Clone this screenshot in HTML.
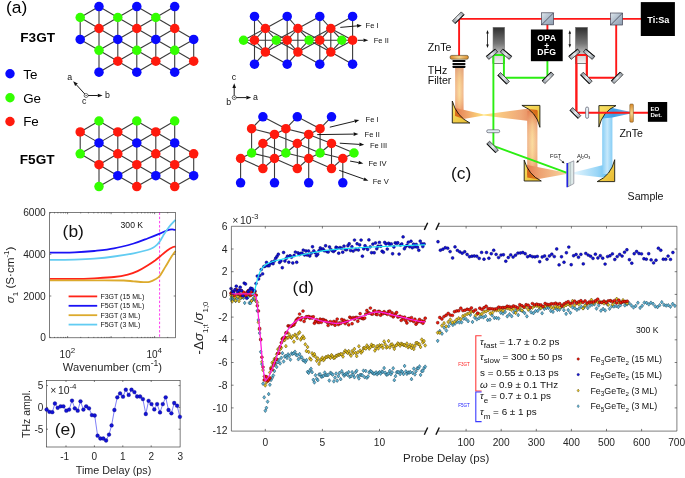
<!DOCTYPE html>
<html lang="en"><head><meta charset="utf-8"><title>Figure</title>
<style>html,body{margin:0;padding:0;background:#fff}body{width:685px;height:478px;overflow:hidden;font-family:"Liberation Sans",Arial,sans-serif}svg{display:block}</style>
</head><body>
<svg width="685" height="478" viewBox="0 0 685 478" font-family="'Liberation Sans', Arial, sans-serif">
<rect width="685" height="478" fill="#fff"/>
<g id="pa"><g stroke="#3a3a3a" stroke-width="1.1">
<line x1="80.2" y1="17.5" x2="80.2" y2="39.4"/>
<line x1="80.2" y1="17.5" x2="99.0" y2="6.6"/>
<line x1="80.2" y1="17.5" x2="99.0" y2="28.5"/>
<line x1="80.2" y1="39.4" x2="99.0" y2="28.5"/>
<line x1="80.2" y1="39.4" x2="99.0" y2="50.3"/>
<line x1="99.0" y1="6.6" x2="99.0" y2="28.5"/>
<line x1="99.0" y1="6.6" x2="117.8" y2="17.5"/>
<line x1="99.0" y1="28.5" x2="99.0" y2="50.3"/>
<line x1="99.0" y1="28.5" x2="117.8" y2="17.5"/>
<line x1="99.0" y1="28.5" x2="117.8" y2="39.4"/>
<line x1="99.0" y1="50.3" x2="99.0" y2="72.2"/>
<line x1="99.0" y1="50.3" x2="117.8" y2="39.4"/>
<line x1="99.0" y1="50.3" x2="117.8" y2="61.2"/>
<line x1="99.0" y1="72.2" x2="117.8" y2="61.2"/>
<line x1="117.8" y1="17.5" x2="117.8" y2="39.4"/>
<line x1="117.8" y1="17.5" x2="136.8" y2="6.6"/>
<line x1="117.8" y1="17.5" x2="136.8" y2="28.5"/>
<line x1="117.8" y1="39.4" x2="117.8" y2="61.2"/>
<line x1="117.8" y1="39.4" x2="136.8" y2="28.5"/>
<line x1="117.8" y1="39.4" x2="136.8" y2="50.3"/>
<line x1="117.8" y1="61.2" x2="136.8" y2="50.3"/>
<line x1="117.8" y1="61.2" x2="136.8" y2="72.2"/>
<line x1="136.8" y1="6.6" x2="136.8" y2="28.5"/>
<line x1="136.8" y1="6.6" x2="155.8" y2="17.5"/>
<line x1="136.8" y1="28.5" x2="136.8" y2="50.3"/>
<line x1="136.8" y1="28.5" x2="155.8" y2="17.5"/>
<line x1="136.8" y1="28.5" x2="155.8" y2="39.4"/>
<line x1="136.8" y1="50.3" x2="136.8" y2="72.2"/>
<line x1="136.8" y1="50.3" x2="155.8" y2="39.4"/>
<line x1="136.8" y1="50.3" x2="155.8" y2="61.2"/>
<line x1="136.8" y1="72.2" x2="155.8" y2="61.2"/>
<line x1="155.8" y1="17.5" x2="155.8" y2="39.4"/>
<line x1="155.8" y1="17.5" x2="174.7" y2="6.6"/>
<line x1="155.8" y1="17.5" x2="174.7" y2="28.5"/>
<line x1="155.8" y1="39.4" x2="155.8" y2="61.2"/>
<line x1="155.8" y1="39.4" x2="174.7" y2="28.5"/>
<line x1="155.8" y1="39.4" x2="174.7" y2="50.3"/>
<line x1="155.8" y1="61.2" x2="174.7" y2="50.3"/>
<line x1="155.8" y1="61.2" x2="174.7" y2="72.2"/>
<line x1="174.7" y1="6.6" x2="174.7" y2="28.5"/>
<line x1="174.7" y1="28.5" x2="174.7" y2="50.3"/>
<line x1="174.7" y1="28.5" x2="193.7" y2="39.4"/>
<line x1="174.7" y1="50.3" x2="174.7" y2="72.2"/>
<line x1="174.7" y1="50.3" x2="193.7" y2="39.4"/>
<line x1="174.7" y1="50.3" x2="193.7" y2="61.2"/>
<line x1="174.7" y1="72.2" x2="193.7" y2="61.2"/>
<line x1="193.7" y1="39.4" x2="193.7" y2="61.2"/>
</g>
<circle cx="80.2" cy="17.5" r="4.75" fill="#33ff00"/>
<circle cx="80.2" cy="39.4" r="4.75" fill="#0a0aff"/>
<circle cx="99.0" cy="6.6" r="4.75" fill="#0a0aff"/>
<circle cx="99.0" cy="28.5" r="4.75" fill="#ff1a0d"/>
<circle cx="99.0" cy="50.3" r="4.75" fill="#33ff00"/>
<circle cx="99.0" cy="72.2" r="4.75" fill="#0a0aff"/>
<circle cx="117.8" cy="17.5" r="4.75" fill="#33ff00"/>
<circle cx="117.8" cy="39.4" r="4.75" fill="#0a0aff"/>
<circle cx="117.8" cy="61.2" r="4.75" fill="#ff1a0d"/>
<circle cx="136.8" cy="6.6" r="4.75" fill="#0a0aff"/>
<circle cx="136.8" cy="28.5" r="4.75" fill="#ff1a0d"/>
<circle cx="136.8" cy="50.3" r="4.75" fill="#33ff00"/>
<circle cx="136.8" cy="72.2" r="4.75" fill="#0a0aff"/>
<circle cx="155.8" cy="17.5" r="4.75" fill="#33ff00"/>
<circle cx="155.8" cy="39.4" r="4.75" fill="#0a0aff"/>
<circle cx="155.8" cy="61.2" r="4.75" fill="#ff1a0d"/>
<circle cx="174.7" cy="6.6" r="4.75" fill="#0a0aff"/>
<circle cx="174.7" cy="28.5" r="4.75" fill="#ff1a0d"/>
<circle cx="174.7" cy="50.3" r="4.75" fill="#33ff00"/>
<circle cx="174.7" cy="72.2" r="4.75" fill="#0a0aff"/>
<circle cx="193.7" cy="39.4" r="4.75" fill="#0a0aff"/>
<circle cx="193.7" cy="61.2" r="4.75" fill="#ff1a0d"/>
<g stroke="#3a3a3a" stroke-width="1.1">
<line x1="80.2" y1="131.9" x2="80.2" y2="153.8"/>
<line x1="80.2" y1="131.9" x2="99.0" y2="121.0"/>
<line x1="80.2" y1="131.9" x2="99.0" y2="142.9"/>
<line x1="80.2" y1="153.8" x2="99.0" y2="142.9"/>
<line x1="80.2" y1="153.8" x2="99.0" y2="164.7"/>
<line x1="99.0" y1="121.0" x2="99.0" y2="142.9"/>
<line x1="99.0" y1="121.0" x2="117.8" y2="131.9"/>
<line x1="99.0" y1="142.9" x2="99.0" y2="164.7"/>
<line x1="99.0" y1="142.9" x2="117.8" y2="131.9"/>
<line x1="99.0" y1="142.9" x2="117.8" y2="153.8"/>
<line x1="99.0" y1="164.7" x2="99.0" y2="186.6"/>
<line x1="99.0" y1="164.7" x2="117.8" y2="153.8"/>
<line x1="99.0" y1="164.7" x2="117.8" y2="175.7"/>
<line x1="99.0" y1="186.6" x2="117.8" y2="175.7"/>
<line x1="117.8" y1="131.9" x2="117.8" y2="153.8"/>
<line x1="117.8" y1="131.9" x2="136.8" y2="121.0"/>
<line x1="117.8" y1="131.9" x2="136.8" y2="142.9"/>
<line x1="117.8" y1="153.8" x2="117.8" y2="175.7"/>
<line x1="117.8" y1="153.8" x2="136.8" y2="142.9"/>
<line x1="117.8" y1="153.8" x2="136.8" y2="164.7"/>
<line x1="117.8" y1="175.7" x2="136.8" y2="164.7"/>
<line x1="117.8" y1="175.7" x2="136.8" y2="186.6"/>
<line x1="136.8" y1="121.0" x2="136.8" y2="142.9"/>
<line x1="136.8" y1="121.0" x2="155.8" y2="131.9"/>
<line x1="136.8" y1="142.9" x2="136.8" y2="164.7"/>
<line x1="136.8" y1="142.9" x2="155.8" y2="131.9"/>
<line x1="136.8" y1="142.9" x2="155.8" y2="153.8"/>
<line x1="136.8" y1="164.7" x2="136.8" y2="186.6"/>
<line x1="136.8" y1="164.7" x2="155.8" y2="153.8"/>
<line x1="136.8" y1="164.7" x2="155.8" y2="175.7"/>
<line x1="136.8" y1="186.6" x2="155.8" y2="175.7"/>
<line x1="155.8" y1="131.9" x2="155.8" y2="153.8"/>
<line x1="155.8" y1="131.9" x2="174.7" y2="121.0"/>
<line x1="155.8" y1="131.9" x2="174.7" y2="142.9"/>
<line x1="155.8" y1="153.8" x2="155.8" y2="175.7"/>
<line x1="155.8" y1="153.8" x2="174.7" y2="142.9"/>
<line x1="155.8" y1="153.8" x2="174.7" y2="164.7"/>
<line x1="155.8" y1="175.7" x2="174.7" y2="164.7"/>
<line x1="155.8" y1="175.7" x2="174.7" y2="186.6"/>
<line x1="174.7" y1="121.0" x2="174.7" y2="142.9"/>
<line x1="174.7" y1="142.9" x2="174.7" y2="164.7"/>
<line x1="174.7" y1="142.9" x2="193.7" y2="153.8"/>
<line x1="174.7" y1="164.7" x2="174.7" y2="186.6"/>
<line x1="174.7" y1="164.7" x2="193.7" y2="153.8"/>
<line x1="174.7" y1="164.7" x2="193.7" y2="175.7"/>
<line x1="174.7" y1="186.6" x2="193.7" y2="175.7"/>
<line x1="193.7" y1="153.8" x2="193.7" y2="175.7"/>
</g>
<circle cx="80.2" cy="131.9" r="4.75" fill="#ff1a0d"/>
<circle cx="80.2" cy="153.8" r="4.75" fill="#33ff00"/>
<circle cx="99.0" cy="121.0" r="4.75" fill="#33ff00"/>
<circle cx="99.0" cy="142.9" r="4.75" fill="#0a0aff"/>
<circle cx="99.0" cy="164.7" r="4.75" fill="#ff1a0d"/>
<circle cx="99.0" cy="186.6" r="4.75" fill="#33ff00"/>
<circle cx="117.8" cy="131.9" r="4.75" fill="#ff1a0d"/>
<circle cx="117.8" cy="153.8" r="4.75" fill="#ff1a0d"/>
<circle cx="117.8" cy="175.7" r="4.75" fill="#0a0aff"/>
<circle cx="136.8" cy="121.0" r="4.75" fill="#33ff00"/>
<circle cx="136.8" cy="142.9" r="4.75" fill="#0a0aff"/>
<circle cx="136.8" cy="164.7" r="4.75" fill="#ff1a0d"/>
<circle cx="136.8" cy="186.6" r="4.75" fill="#ff1a0d"/>
<circle cx="155.8" cy="131.9" r="4.75" fill="#ff1a0d"/>
<circle cx="155.8" cy="153.8" r="4.75" fill="#ff1a0d"/>
<circle cx="155.8" cy="175.7" r="4.75" fill="#0a0aff"/>
<circle cx="174.7" cy="121.0" r="4.75" fill="#33ff00"/>
<circle cx="174.7" cy="142.9" r="4.75" fill="#0a0aff"/>
<circle cx="174.7" cy="164.7" r="4.75" fill="#ff1a0d"/>
<circle cx="174.7" cy="186.6" r="4.75" fill="#ff1a0d"/>
<circle cx="193.7" cy="153.8" r="4.75" fill="#ff1a0d"/>
<circle cx="193.7" cy="175.7" r="4.75" fill="#0a0aff"/>
<g stroke="#3a3a3a" stroke-width="1.1">
<line x1="254.5" y1="16.4" x2="254.5" y2="64.2"/>
<line x1="287.2" y1="16.4" x2="287.2" y2="64.2"/>
<line x1="319.8" y1="16.4" x2="319.8" y2="64.2"/>
<line x1="352.6" y1="16.4" x2="352.6" y2="64.2"/>
<line x1="243.5" y1="40.2" x2="352.6" y2="40.2"/>
<line x1="265.4" y1="28.5" x2="254.5" y2="16.4"/>
<line x1="265.4" y1="28.5" x2="287.2" y2="16.4"/>
<line x1="265.4" y1="28.5" x2="243.5" y2="40.2"/>
<line x1="265.4" y1="28.5" x2="254.5" y2="40.2"/>
<line x1="265.4" y1="28.5" x2="276.2" y2="40.2"/>
<line x1="265.4" y1="28.5" x2="287.2" y2="40.2"/>
<line x1="265.4" y1="52.1" x2="254.5" y2="64.2"/>
<line x1="265.4" y1="52.1" x2="287.2" y2="64.2"/>
<line x1="265.4" y1="52.1" x2="243.5" y2="40.2"/>
<line x1="265.4" y1="52.1" x2="254.5" y2="40.2"/>
<line x1="265.4" y1="52.1" x2="276.2" y2="40.2"/>
<line x1="265.4" y1="52.1" x2="287.2" y2="40.2"/>
<line x1="265.4" y1="28.5" x2="265.4" y2="52.1"/>
<line x1="297.9" y1="28.5" x2="287.2" y2="16.4"/>
<line x1="297.9" y1="28.5" x2="319.8" y2="16.4"/>
<line x1="297.9" y1="28.5" x2="276.2" y2="40.2"/>
<line x1="297.9" y1="28.5" x2="287.2" y2="40.2"/>
<line x1="297.9" y1="28.5" x2="309.0" y2="40.2"/>
<line x1="297.9" y1="28.5" x2="319.8" y2="40.2"/>
<line x1="297.9" y1="52.1" x2="287.2" y2="64.2"/>
<line x1="297.9" y1="52.1" x2="319.8" y2="64.2"/>
<line x1="297.9" y1="52.1" x2="276.2" y2="40.2"/>
<line x1="297.9" y1="52.1" x2="287.2" y2="40.2"/>
<line x1="297.9" y1="52.1" x2="309.0" y2="40.2"/>
<line x1="297.9" y1="52.1" x2="319.8" y2="40.2"/>
<line x1="297.9" y1="28.5" x2="297.9" y2="52.1"/>
<line x1="330.8" y1="28.5" x2="319.8" y2="16.4"/>
<line x1="330.8" y1="28.5" x2="352.6" y2="16.4"/>
<line x1="330.8" y1="28.5" x2="309.0" y2="40.2"/>
<line x1="330.8" y1="28.5" x2="319.8" y2="40.2"/>
<line x1="330.8" y1="28.5" x2="341.8" y2="40.2"/>
<line x1="330.8" y1="28.5" x2="352.6" y2="40.2"/>
<line x1="330.8" y1="52.1" x2="319.8" y2="64.2"/>
<line x1="330.8" y1="52.1" x2="352.6" y2="64.2"/>
<line x1="330.8" y1="52.1" x2="309.0" y2="40.2"/>
<line x1="330.8" y1="52.1" x2="319.8" y2="40.2"/>
<line x1="330.8" y1="52.1" x2="341.8" y2="40.2"/>
<line x1="330.8" y1="52.1" x2="352.6" y2="40.2"/>
<line x1="330.8" y1="28.5" x2="330.8" y2="52.1"/>
</g>
<circle cx="254.5" cy="16.4" r="4.75" fill="#0a0aff"/>
<circle cx="254.5" cy="64.2" r="4.75" fill="#0a0aff"/>
<circle cx="254.5" cy="40.2" r="4.75" fill="#ff1a0d"/>
<circle cx="287.2" cy="16.4" r="4.75" fill="#0a0aff"/>
<circle cx="287.2" cy="64.2" r="4.75" fill="#0a0aff"/>
<circle cx="287.2" cy="40.2" r="4.75" fill="#ff1a0d"/>
<circle cx="319.8" cy="16.4" r="4.75" fill="#0a0aff"/>
<circle cx="319.8" cy="64.2" r="4.75" fill="#0a0aff"/>
<circle cx="319.8" cy="40.2" r="4.75" fill="#ff1a0d"/>
<circle cx="352.6" cy="16.4" r="4.75" fill="#0a0aff"/>
<circle cx="352.6" cy="64.2" r="4.75" fill="#0a0aff"/>
<circle cx="352.6" cy="40.2" r="4.75" fill="#ff1a0d"/>
<circle cx="243.5" cy="40.2" r="4.7" fill="#33ff00"/>
<circle cx="276.2" cy="40.2" r="4.7" fill="#33ff00"/>
<circle cx="309.0" cy="40.2" r="4.7" fill="#33ff00"/>
<circle cx="341.8" cy="40.2" r="4.7" fill="#33ff00"/>
<circle cx="265.4" cy="28.5" r="4.75" fill="#ff1a0d"/>
<circle cx="265.4" cy="52.1" r="4.75" fill="#ff1a0d"/>
<circle cx="297.9" cy="28.5" r="4.75" fill="#ff1a0d"/>
<circle cx="297.9" cy="52.1" r="4.75" fill="#ff1a0d"/>
<circle cx="330.8" cy="28.5" r="4.75" fill="#ff1a0d"/>
<circle cx="330.8" cy="52.1" r="4.75" fill="#ff1a0d"/>
<g stroke="#3a3a3a" stroke-width="1.1">
<line x1="262.9" y1="116.8" x2="251.6" y2="128.7"/>
<line x1="262.9" y1="116.8" x2="285.9" y2="128.7"/>
<line x1="297.3" y1="116.8" x2="285.9" y2="128.7"/>
<line x1="297.3" y1="116.8" x2="320.1" y2="128.7"/>
<line x1="331.5" y1="116.8" x2="320.1" y2="128.7"/>
<line x1="251.6" y1="128.7" x2="274.5" y2="134.4"/>
<line x1="285.9" y1="128.7" x2="274.5" y2="134.4"/>
<line x1="285.9" y1="128.7" x2="308.7" y2="134.4"/>
<line x1="320.1" y1="128.7" x2="308.7" y2="134.4"/>
<line x1="274.5" y1="134.4" x2="262.9" y2="143.5"/>
<line x1="274.5" y1="134.4" x2="297.3" y2="143.5"/>
<line x1="308.7" y1="134.4" x2="297.3" y2="143.5"/>
<line x1="308.7" y1="134.4" x2="331.5" y2="143.5"/>
<line x1="262.9" y1="143.5" x2="251.6" y2="153.0"/>
<line x1="262.9" y1="143.5" x2="285.9" y2="153.0"/>
<line x1="297.3" y1="143.5" x2="285.9" y2="153.0"/>
<line x1="297.3" y1="143.5" x2="320.1" y2="153.0"/>
<line x1="331.5" y1="143.5" x2="320.1" y2="153.0"/>
<line x1="331.5" y1="143.5" x2="354.0" y2="153.0"/>
<line x1="251.6" y1="153.0" x2="240.6" y2="158.5"/>
<line x1="251.6" y1="153.0" x2="274.5" y2="158.5"/>
<line x1="285.9" y1="153.0" x2="274.5" y2="158.5"/>
<line x1="285.9" y1="153.0" x2="308.7" y2="158.5"/>
<line x1="320.1" y1="153.0" x2="308.7" y2="158.5"/>
<line x1="320.1" y1="153.0" x2="342.8" y2="158.5"/>
<line x1="354.0" y1="153.0" x2="342.8" y2="158.5"/>
<line x1="240.6" y1="158.5" x2="262.9" y2="168.6"/>
<line x1="274.5" y1="158.5" x2="262.9" y2="168.6"/>
<line x1="274.5" y1="158.5" x2="297.3" y2="168.6"/>
<line x1="308.7" y1="158.5" x2="297.3" y2="168.6"/>
<line x1="308.7" y1="158.5" x2="331.5" y2="168.6"/>
<line x1="342.8" y1="158.5" x2="331.5" y2="168.6"/>
<line x1="251.6" y1="128.7" x2="251.6" y2="153.0"/>
<line x1="285.9" y1="128.7" x2="285.9" y2="153.0"/>
<line x1="320.1" y1="128.7" x2="320.1" y2="153.0"/>
<line x1="274.5" y1="134.4" x2="274.5" y2="182.8"/>
<line x1="308.7" y1="134.4" x2="308.7" y2="182.8"/>
<line x1="240.6" y1="158.5" x2="240.6" y2="182.8"/>
<line x1="342.8" y1="158.5" x2="342.8" y2="182.8"/>
<line x1="262.9" y1="143.5" x2="262.9" y2="168.6"/>
<line x1="297.3" y1="143.5" x2="297.3" y2="168.6"/>
<line x1="331.5" y1="143.5" x2="331.5" y2="168.6"/>
</g>
<circle cx="262.9" cy="116.8" r="4.75" fill="#0a0aff"/>
<circle cx="297.3" cy="116.8" r="4.75" fill="#0a0aff"/>
<circle cx="331.5" cy="116.8" r="4.75" fill="#0a0aff"/>
<circle cx="251.6" cy="128.7" r="4.75" fill="#ff1a0d"/>
<circle cx="285.9" cy="128.7" r="4.75" fill="#ff1a0d"/>
<circle cx="320.1" cy="128.7" r="4.75" fill="#ff1a0d"/>
<circle cx="274.5" cy="134.4" r="4.75" fill="#ff1a0d"/>
<circle cx="308.7" cy="134.4" r="4.75" fill="#ff1a0d"/>
<circle cx="262.9" cy="143.5" r="4.75" fill="#ff1a0d"/>
<circle cx="297.3" cy="143.5" r="4.75" fill="#ff1a0d"/>
<circle cx="331.5" cy="143.5" r="4.75" fill="#ff1a0d"/>
<circle cx="251.6" cy="153.0" r="4.75" fill="#33ff00"/>
<circle cx="285.9" cy="153.0" r="4.75" fill="#33ff00"/>
<circle cx="320.1" cy="153.0" r="4.75" fill="#33ff00"/>
<circle cx="354.0" cy="153.0" r="4.75" fill="#33ff00"/>
<circle cx="240.6" cy="158.5" r="4.75" fill="#ff1a0d"/>
<circle cx="274.5" cy="158.5" r="4.75" fill="#ff1a0d"/>
<circle cx="308.7" cy="158.5" r="4.75" fill="#ff1a0d"/>
<circle cx="342.8" cy="158.5" r="4.75" fill="#ff1a0d"/>
<circle cx="262.9" cy="168.6" r="4.75" fill="#ff1a0d"/>
<circle cx="297.3" cy="168.6" r="4.75" fill="#ff1a0d"/>
<circle cx="331.5" cy="168.6" r="4.75" fill="#ff1a0d"/>
<circle cx="240.6" cy="182.8" r="4.75" fill="#0a0aff"/>
<circle cx="274.5" cy="182.8" r="4.75" fill="#0a0aff"/>
<circle cx="308.7" cy="182.8" r="4.75" fill="#0a0aff"/>
<circle cx="342.8" cy="182.8" r="4.75" fill="#0a0aff"/>
<line x1="340.3" y1="27.4" x2="357.0" y2="25.9" stroke="#111" stroke-width="0.95"/><polygon points="361.8,25.5 357.2,27.7 356.9,24.1" fill="#111"/>
<line x1="357.8" y1="40.3" x2="363.5" y2="40.3" stroke="#111" stroke-width="0.95"/><polygon points="368.3,40.3 363.5,42.1 363.5,38.5" fill="#111"/>
<line x1="329.8" y1="127.2" x2="354.6" y2="121.2" stroke="#111" stroke-width="0.95"/><polygon points="359.3,120.1 355.1,123.0 354.2,119.5" fill="#111"/>
<line x1="317.2" y1="134.6" x2="353.6" y2="134.1" stroke="#111" stroke-width="0.95"/><polygon points="358.4,134.0 353.6,135.9 353.6,132.3" fill="#111"/>
<line x1="339.8" y1="143.2" x2="359.4" y2="144.4" stroke="#111" stroke-width="0.95"/><polygon points="364.2,144.7 359.3,146.2 359.5,142.6" fill="#111"/>
<line x1="350.1" y1="161.1" x2="358.6" y2="162.6" stroke="#111" stroke-width="0.95"/><polygon points="363.3,163.4 358.3,164.3 358.9,160.8" fill="#111"/>
<line x1="339.2" y1="170.3" x2="363.9" y2="179.1" stroke="#111" stroke-width="0.95"/><polygon points="368.4,180.7 363.3,180.8 364.5,177.4" fill="#111"/>
<g font-size="7.6" fill="#111">
<text x="365.6" y="27.9">Fe I</text>
<text x="373.7" y="43.2">Fe II</text>
<text x="365.6" y="122.4">Fe I</text>
<text x="364.6" y="136.6">Fe II</text>
<text x="369.9" y="147.8">Fe III</text>
<text x="368.4" y="165.8">Fe IV</text>
<text x="372.7" y="184.0">Fe V</text>
</g>
<circle cx="86.1" cy="95.5" r="2.0" fill="#fff" stroke="#111" stroke-width="0.6"/><circle cx="86.1" cy="95.5" r="0.6" fill="#111"/>
<line x1="84.8" y1="94.0" x2="76.4" y2="84.8" stroke="#111" stroke-width="0.95"/><polygon points="73.2,81.2 77.8,83.5 75.1,86.0" fill="#111"/>
<line x1="88.1" y1="95.5" x2="97.8" y2="95.5" stroke="#111" stroke-width="0.95"/><polygon points="102.6,95.5 97.8,97.3 97.8,93.7" fill="#111"/>
<circle cx="234.2" cy="97.6" r="2.0" fill="#fff" stroke="#111" stroke-width="0.6"/><circle cx="234.2" cy="97.6" r="0.6" fill="#111"/>
<line x1="234.2" y1="95.6" x2="234.2" y2="88.0" stroke="#111" stroke-width="0.95"/><polygon points="234.2,83.2 236.0,88.0 232.4,88.0" fill="#111"/>
<line x1="236.2" y1="97.6" x2="246.4" y2="97.6" stroke="#111" stroke-width="0.95"/><polygon points="251.2,97.6 246.4,99.4 246.4,95.8" fill="#111"/>
<g font-size="8.8" fill="#111" text-anchor="middle">
<text x="69.6" y="80.4">a</text>
<text x="107.5" y="98.2">b</text>
<text x="84.2" y="104.0">c</text>
<text x="234.0" y="80.0">c</text>
<text x="255.4" y="100.2">a</text>
<text x="228.6" y="105.2">b</text>
</g>
<text x="6.0" y="13.3" font-size="17.4">(a)</text>
<text x="20.3" y="41.6" font-size="13.6" font-weight="bold">F3GT</text>
<text x="19.8" y="164.4" font-size="13.6" font-weight="bold">F5GT</text>
<circle cx="10.0" cy="73.8" r="4.7" fill="#0a0aff"/>
<text x="23.2" y="78.7" font-size="13.4">Te</text>
<circle cx="10.0" cy="97.7" r="4.7" fill="#33ff00"/>
<text x="23.2" y="102.6" font-size="13.4">Ge</text>
<circle cx="10.0" cy="121.5" r="4.7" fill="#ff1a0d"/>
<text x="23.2" y="126.4" font-size="13.4">Fe</text></g>
<g id="pc"><defs>
<linearGradient id="gmir" x1="0" y1="0" x2="1" y2="0"><stop offset="0" stop-color="#8c949c"/><stop offset="0.5" stop-color="#e8ecef"/><stop offset="1" stop-color="#9aa2aa"/></linearGradient>
<linearGradient id="gbs" x1="0" y1="0" x2="1" y2="1"><stop offset="0" stop-color="#dfe6ec"/><stop offset="0.5" stop-color="#aebccb"/><stop offset="1" stop-color="#8e9eb0"/></linearGradient>
<linearGradient id="gstage" x1="0" y1="0" x2="0" y2="1"><stop offset="0" stop-color="#2e2e2e"/><stop offset="0.45" stop-color="#777"/><stop offset="0.8" stop-color="#d8d8d8"/><stop offset="1" stop-color="#f4f4f4"/></linearGradient>
<linearGradient id="ggold" x1="0" y1="0" x2="1" y2="1"><stop offset="0" stop-color="#f9e468"/><stop offset="1" stop-color="#e8b930"/></linearGradient>
<linearGradient id="gznte" x1="0" y1="0" x2="1" y2="0"><stop offset="0" stop-color="#d98a2a"/><stop offset="0.5" stop-color="#f6d58e"/><stop offset="1" stop-color="#d98a2a"/></linearGradient>
<linearGradient id="gznte2" x1="0" y1="0" x2="0" y2="1"><stop offset="0" stop-color="#d98a2a"/><stop offset="0.5" stop-color="#f6d58e"/><stop offset="1" stop-color="#d98a2a"/></linearGradient>
<linearGradient id="gthzV" x1="0" y1="0" x2="1" y2="0"><stop offset="0" stop-color="#efb48c"/><stop offset="0.5" stop-color="#fbdca0"/><stop offset="1" stop-color="#efb48c"/></linearGradient>
<linearGradient id="gthzV1" x1="0" y1="0" x2="0" y2="1"><stop offset="0" stop-color="#d48a6a" stop-opacity="0.55"/><stop offset="0.5" stop-color="#ffd070" stop-opacity="0.0"/><stop offset="0.8" stop-color="#e0693a" stop-opacity="0.3"/><stop offset="1" stop-color="#e0693a" stop-opacity="0.65"/></linearGradient>
<linearGradient id="gthzH" x1="0" y1="0" x2="1" y2="0"><stop offset="0" stop-color="#e47c50"/><stop offset="0.15" stop-color="#f0a66c"/><stop offset="0.35" stop-color="#ffe47c"/><stop offset="0.48" stop-color="#fcd084"/><stop offset="0.8" stop-color="#efa878"/><stop offset="1" stop-color="#e47c50"/></linearGradient>
<linearGradient id="gthzV2" x1="0" y1="0" x2="0" y2="1"><stop offset="0" stop-color="#e0693a" stop-opacity="0.7"/><stop offset="0.22" stop-color="#e0693a" stop-opacity="0.2"/><stop offset="0.5" stop-color="#ffd070" stop-opacity="0.0"/><stop offset="0.8" stop-color="#e0693a" stop-opacity="0.2"/><stop offset="1" stop-color="#e0693a" stop-opacity="0.7"/></linearGradient>
<linearGradient id="gthzF" x1="0" y1="0" x2="1" y2="0"><stop offset="0" stop-color="#e47c50"/><stop offset="0.3" stop-color="#eda070"/><stop offset="1" stop-color="#f8d4a0"/></linearGradient>
<linearGradient id="gblueH" x1="0" y1="0" x2="1" y2="0"><stop offset="0" stop-color="#e2f4fd"/><stop offset="0.6" stop-color="#9ad6f7"/><stop offset="1" stop-color="#52b6ee"/></linearGradient>
<linearGradient id="gblueV" x1="0" y1="0" x2="1" y2="0"><stop offset="0" stop-color="#86cdf5"/><stop offset="0.5" stop-color="#c6e8fb"/><stop offset="1" stop-color="#86cdf5"/></linearGradient>
<linearGradient id="gblueT" x1="0" y1="0" x2="1" y2="0"><stop offset="0" stop-color="#55b4ee"/><stop offset="0.4" stop-color="#3f9fe6"/><stop offset="1" stop-color="#7ab8e4"/></linearGradient>
<linearGradient id="gsub" x1="0" y1="0" x2="1" y2="0"><stop offset="0" stop-color="#c5d8d8"/><stop offset="1" stop-color="#e8f0f0"/></linearGradient>
</defs>
<polygon points="574.2,172.2 602.2,165.2 612.4,167 612.4,178.6 602.2,177.6 574.2,174.2" fill="url(#gblueH)"/>
<rect x="602.2" y="110" width="10.2" height="64" fill="url(#gblueV)"/>
<polygon points="602.2,108.6 612.4,108.0 631,112.0 631,113.4 612.4,117.6 602.2,118.6" fill="url(#gblueT)"/>
<path d="M452.3,101 L452.3,123 L469.9,123 Q456.5,116.5 452.3,101 Z" fill="url(#ggold)" stroke="#1a1a10" stroke-width="0.9" stroke-linejoin="miter"/>
<path d="M521.9,105.4 L539.9,105.4 L539.9,127.3 Q536.5,111.5 521.9,105.4 Z" fill="url(#ggold)" stroke="#1a1a10" stroke-width="0.9" stroke-linejoin="miter"/>
<path d="M524.2,160.1 L524.2,181 L541.3,181 Q528.5,175 524.2,160.1 Z" fill="url(#ggold)" stroke="#1a1a10" stroke-width="0.9" stroke-linejoin="miter"/>
<path d="M616,105.6 L598.9,105.6 L598.9,127.1 Q602.5,111.5 616,105.6 Z" fill="url(#ggold)" stroke="#1a1a10" stroke-width="0.9" stroke-linejoin="miter"/>
<path d="M614.7,159.7 L614.7,181.6 L597.2,181.6 Q611,175.5 614.7,159.7 Z" fill="url(#ggold)" stroke="#1a1a10" stroke-width="0.9" stroke-linejoin="miter"/>
<g style="mix-blend-mode:multiply">
<rect x="455.2" y="68" width="8.3" height="48" fill="url(#gthzV)"/>
<rect x="455.2" y="68" width="8.3" height="48" fill="url(#gthzV1)"/>
<polygon points="455.2,108.0 463.5,109.8 483.8,114.4 527.2,108.8 537.4,110.0 537.4,122.0 483.8,115.6 463.5,119.0 455.2,116.0" fill="url(#gthzH)"/>
<rect x="527.2" y="111" width="10.2" height="64" fill="url(#gthzV)"/>
<rect x="527.2" y="111" width="10.2" height="64" fill="url(#gthzV2)"/>
<polygon points="527.2,165 537.4,167 566.4,172.7 566.4,174.1 537.4,179.2 527.2,177.4" fill="url(#gthzF)"/>
</g>
<g fill="none" stroke="#ff1717" stroke-width="1.9" stroke-linejoin="miter">
<polyline points="459.1,56 459.1,18.9 641,18.9"/>
<line x1="547.4" y1="24" x2="547.4" y2="30.5"/>
<polyline points="616.2,24 616.2,77.8 586.8,77.8 586.8,55.0 576.4,55.0 576.4,112.7 648,112.7"/>
</g>
<rect x="493.0" y="27.3" width="11.7" height="36.3" fill="url(#gstage)" stroke="#777" stroke-width="0.5"/><rect x="493.0" y="55.6" width="11.7" height="8.0" fill="none" stroke="#555" stroke-width="0.6"/>
<rect x="575.4" y="27.3" width="12.2" height="36.3" fill="url(#gstage)" stroke="#777" stroke-width="0.5"/><rect x="575.4" y="55.6" width="12.2" height="8.0" fill="none" stroke="#555" stroke-width="0.6"/>
<g fill="none" stroke="#ff1717" stroke-width="1.9"><polyline points="586.8,77.8 586.8,55.0 576.4,55.0 576.4,112.7"/></g>
<g fill="none" stroke="#2bee12" stroke-width="1.9" stroke-linejoin="miter">
<polyline points="547.4,61 547.4,77.8 503.9,77.8 503.9,55.0 493.4,55.0 493.4,145.8 566.4,172.6"/>
</g>
<rect x="530.9" y="29.5" width="31.8" height="31.7" fill="#000"/>
<g font-size="8.7" font-weight="bold" fill="#fff" text-anchor="middle" letter-spacing="0.25"><text x="546.8" y="41.1">OPA</text><text x="546.8" y="48.6">+</text><text x="546.8" y="55.4">DFG</text></g>
<rect x="640.8" y="2.1" width="34.1" height="33.9" fill="#000"/>
<text x="658.4" y="22.6" font-size="9.1" font-weight="bold" fill="#fff" text-anchor="middle">Ti:Sa</text>
<rect x="647.9" y="102.0" width="19.3" height="19.8" fill="#000"/>
<g font-size="6.1" font-weight="bold" fill="#fff"><text x="650.4" y="110.8">EO</text><text x="650.4" y="117.0">Det.</text></g>
<rect x="541.6" y="12.8" width="12.0" height="12.0" fill="url(#gbs)" stroke="#445" stroke-width="0.7"/><line x1="541.6" y1="24.8" x2="553.6" y2="12.8" stroke="#334" stroke-width="0.7"/>
<rect x="610.6" y="13.0" width="12.0" height="12.0" fill="url(#gbs)" stroke="#445" stroke-width="0.7"/><line x1="610.6" y1="25.0" x2="622.6" y2="13.0" stroke="#334" stroke-width="0.7"/>
<g transform="translate(458.2,17.7) rotate(-45)"><rect x="-6.3" y="-1.9" width="12.6" height="3.8" fill="url(#gmir)" stroke="#222" stroke-width="0.7"/><line x1="-6.3" y1="1.9" x2="6.3" y2="1.9" stroke="#111" stroke-width="1.0"/></g>
<g transform="translate(492.0,54.2) rotate(140)"><rect x="-5.8" y="-1.9" width="11.6" height="3.8" fill="url(#gmir)" stroke="#222" stroke-width="0.7"/><line x1="-5.8" y1="1.9" x2="5.8" y2="1.9" stroke="#111" stroke-width="1.0"/></g>
<g transform="translate(506.0,54.2) rotate(-140)"><rect x="-5.8" y="-1.9" width="11.6" height="3.8" fill="url(#gmir)" stroke="#222" stroke-width="0.7"/><line x1="-5.8" y1="1.9" x2="5.8" y2="1.9" stroke="#111" stroke-width="1.0"/></g>
<g transform="translate(574.4,54.2) rotate(140)"><rect x="-5.8" y="-1.9" width="11.6" height="3.8" fill="url(#gmir)" stroke="#222" stroke-width="0.7"/><line x1="-5.8" y1="1.9" x2="5.8" y2="1.9" stroke="#111" stroke-width="1.0"/></g>
<g transform="translate(589.0,54.2) rotate(-140)"><rect x="-5.8" y="-1.9" width="11.6" height="3.8" fill="url(#gmir)" stroke="#222" stroke-width="0.7"/><line x1="-5.8" y1="1.9" x2="5.8" y2="1.9" stroke="#111" stroke-width="1.0"/></g>
<g transform="translate(503.6,78.3) rotate(45)"><rect x="-6.3" y="-1.9" width="12.6" height="3.8" fill="url(#gmir)" stroke="#222" stroke-width="0.7"/><line x1="-6.3" y1="1.9" x2="6.3" y2="1.9" stroke="#111" stroke-width="1.0"/></g>
<g transform="translate(548.0,77.8) rotate(135)"><rect x="-6.3" y="-1.9" width="12.6" height="3.8" fill="url(#gmir)" stroke="#222" stroke-width="0.7"/><line x1="-6.3" y1="1.9" x2="6.3" y2="1.9" stroke="#111" stroke-width="1.0"/></g>
<g transform="translate(586.4,78.0) rotate(45)"><rect x="-6.3" y="-1.9" width="12.6" height="3.8" fill="url(#gmir)" stroke="#222" stroke-width="0.7"/><line x1="-6.3" y1="1.9" x2="6.3" y2="1.9" stroke="#111" stroke-width="1.0"/></g>
<g transform="translate(617.2,77.8) rotate(135)"><rect x="-6.3" y="-1.9" width="12.6" height="3.8" fill="url(#gmir)" stroke="#222" stroke-width="0.7"/><line x1="-6.3" y1="1.9" x2="6.3" y2="1.9" stroke="#111" stroke-width="1.0"/></g>
<g transform="translate(492.6,146.9) rotate(45)"><rect x="-6.2" y="-1.9" width="12.5" height="3.8" fill="url(#gmir)" stroke="#222" stroke-width="0.7"/><line x1="-6.2" y1="1.9" x2="6.2" y2="1.9" stroke="#111" stroke-width="1.0"/></g>
<g transform="translate(575.4,113.0) rotate(45)"><rect x="-5.8" y="-1.9" width="11.5" height="3.8" fill="url(#gmir)" stroke="#222" stroke-width="0.7"/><line x1="-5.8" y1="1.9" x2="5.8" y2="1.9" stroke="#111" stroke-width="1.0"/></g>
<line x1="487.5" y1="31.9" x2="487.5" y2="46.0" stroke="#111" stroke-width="0.8"/><polygon points="487.5,29.9 486.2,33.5 488.8,33.5" fill="#111"/><polygon points="487.5,48.0 486.2,44.4 488.8,44.4" fill="#111"/>
<line x1="569.8" y1="32.2" x2="569.8" y2="45.8" stroke="#111" stroke-width="0.8"/><polygon points="569.8,30.2 568.5,33.8 571.1,33.8" fill="#111"/><polygon points="569.8,47.8 568.5,44.2 571.1,44.2" fill="#111"/>
<rect x="486.7" y="129.8" width="13.0" height="2.9" rx="1.4" fill="#e4eef4" stroke="#445" stroke-width="0.6"/>
<rect x="585.6" y="107.0" width="3.0" height="11.4" rx="1.5" fill="#e4eef4" stroke="#445" stroke-width="0.6"/>
<rect x="450.1" y="55.4" width="18.3" height="3.8" rx="1.6" fill="url(#gznte)" stroke="#4a3a1a" stroke-width="0.6"/>
<rect x="452.4" y="60.0" width="13.1" height="2.1" rx="0.8" fill="#0a0a0a"/>
<rect x="452.4" y="62.9" width="13.1" height="2.1" rx="0.8" fill="#0a0a0a"/>
<rect x="452.4" y="65.8" width="13.1" height="2.1" rx="0.8" fill="#0a0a0a"/>
<rect x="629.8" y="104.0" width="3.6" height="18.2" rx="1.0" fill="url(#gznte2)" stroke="#6a4a1a" stroke-width="0.5"/>
<polygon points="568.0,163.4 573.8,160.8 573.8,183.6 568.0,186.8" fill="url(#gsub)" stroke="#556" stroke-width="0.5"/>
<line x1="570.4" y1="162.4" x2="570.4" y2="185.4" stroke="#8a9a9a" stroke-width="0.4"/>
<line x1="567.2" y1="163.0" x2="567.2" y2="187.2" stroke="#1a1ae0" stroke-width="1.5"/>
<line x1="558.8" y1="158.6" x2="563.2" y2="162.2" stroke="#111" stroke-width="0.6"/><polygon points="564.6,163.4 561.7,162.6 563.2,160.8" fill="#111"/>
<line x1="581.2" y1="158.6" x2="577.6" y2="161.6" stroke="#111" stroke-width="0.6"/><polygon points="576.2,162.8 577.5,160.2 579.0,162.0" fill="#111"/>
<text x="550.0" y="157.8" font-size="5.6" fill="#111">FGT</text>
<text x="577.0" y="157.8" font-size="5.6" fill="#111">Al<tspan font-size="3.6" dy="1.2">2</tspan><tspan dy="-1.2">O</tspan><tspan font-size="3.6" dy="1.2">3</tspan></text>
<g font-size="10.6" fill="#111"><text x="427.8" y="51.4">ZnTe</text><text x="427.8" y="73.6">THz</text><text x="427.8" y="84.2">Filter</text><text x="619.4" y="137.0">ZnTe</text></g>
<text x="627.6" y="199.6" font-size="10.6" fill="#111">Sample</text>
<text x="451.0" y="179.0" font-size="17.4" fill="#111">(c)</text></g>
<g id="pb"><rect x="49.7" y="212.5" width="125.6" height="125.3" fill="#fff" stroke="none"/>
<line x1="159.6" y1="212.5" x2="159.6" y2="337.8" stroke="#ff22ee" stroke-width="0.9" stroke-dasharray="2.4,1.8"/>
<path d="M49.9,278.9 C54.0,278.9 67.2,279.0 74.6,278.9 C82.0,278.9 87.7,278.7 94.3,278.4 C100.8,278.0 108.4,277.6 114.0,277.0 C119.6,276.4 123.8,275.6 127.8,274.6 C131.7,273.6 134.3,272.6 137.6,271.1 C140.9,269.6 144.5,267.4 147.5,265.5 C150.4,263.7 153.3,261.7 155.4,260.2 C157.4,258.7 157.7,258.3 159.7,256.7 C161.7,255.0 165.0,252.0 167.2,250.4 C169.4,248.8 171.7,247.6 173.1,247.0 C174.5,246.4 175.1,246.7 175.5,246.6" fill="none" stroke="#ff2418" stroke-width="1.8" stroke-linecap="butt"/>
<path d="M49.9,252.7 C54.0,252.7 67.2,252.6 74.6,252.3 C82.0,252.0 87.7,251.6 94.3,251.0 C100.8,250.3 107.4,249.7 114.0,248.4 C120.5,247.2 128.1,245.1 133.7,243.5 C139.3,241.8 143.1,240.2 147.5,238.5 C151.8,236.9 156.4,235.0 159.7,233.6 C163.0,232.2 165.1,231.0 167.2,230.3 C169.3,229.5 170.7,229.3 172.1,229.3 C173.5,229.3 174.9,229.9 175.5,230.1" fill="none" stroke="#1a12f5" stroke-width="1.8" stroke-linecap="butt"/>
<path d="M49.9,280.3 C54.0,280.3 65.5,280.3 74.6,280.3 C83.6,280.3 95.9,280.3 104.1,280.3 C112.3,280.4 118.9,280.4 123.8,280.5 C128.8,280.7 130.4,281.1 133.7,281.3 C137.0,281.6 140.9,282.0 143.5,282.1 C146.2,282.2 147.5,282.4 149.5,281.9 C151.4,281.4 153.7,280.3 155.4,279.3 C157.1,278.4 158.1,278.0 159.7,276.0 C161.3,274.0 163.3,270.2 165.2,267.1 C167.1,264.0 169.4,260.0 171.1,257.3 C172.8,254.6 174.7,252.0 175.5,251.0" fill="none" stroke="#dcaa2c" stroke-width="1.8" stroke-linecap="butt"/>
<path d="M49.9,259.8 C54.0,259.8 67.2,259.8 74.6,259.6 C82.0,259.4 87.7,259.2 94.3,258.7 C100.8,258.1 107.4,257.4 114.0,256.5 C120.5,255.6 128.1,254.4 133.7,253.3 C139.3,252.2 144.3,250.9 147.5,250.0 C150.7,249.1 151.4,248.7 153.0,247.8 C154.6,247.0 155.8,245.9 156.9,244.9 C158.1,243.8 158.7,243.0 159.7,241.5 C160.8,240.0 161.7,238.1 163.2,235.6 C164.8,233.1 167.1,229.4 169.2,226.7 C171.2,224.1 174.4,221.0 175.5,219.8" fill="none" stroke="#62ccf2" stroke-width="1.8" stroke-linecap="butt"/>
<g stroke="#262626" stroke-width="0.6" fill="none">
<rect x="49.7" y="212.5" width="125.6" height="125.3"/>
<line x1="49.7" y1="296.0" x2="51.3" y2="296.0"/><line x1="175.3" y1="296.0" x2="173.7" y2="296.0"/>
<line x1="49.7" y1="254.3" x2="51.3" y2="254.3"/><line x1="175.3" y1="254.3" x2="173.7" y2="254.3"/>
<line x1="50.3" y1="337.8" x2="50.3" y2="336.9"/><line x1="50.3" y1="212.5" x2="50.3" y2="213.4"/>
<line x1="54.5" y1="337.8" x2="54.5" y2="336.9"/><line x1="54.5" y1="212.5" x2="54.5" y2="213.4"/>
<line x1="57.9" y1="337.8" x2="57.9" y2="336.9"/><line x1="57.9" y1="212.5" x2="57.9" y2="213.4"/>
<line x1="60.9" y1="337.8" x2="60.9" y2="336.9"/><line x1="60.9" y1="212.5" x2="60.9" y2="213.4"/>
<line x1="63.4" y1="337.8" x2="63.4" y2="336.9"/><line x1="63.4" y1="212.5" x2="63.4" y2="213.4"/>
<line x1="65.6" y1="337.8" x2="65.6" y2="336.9"/><line x1="65.6" y1="212.5" x2="65.6" y2="213.4"/>
<line x1="67.6" y1="337.8" x2="67.6" y2="336.1"/><line x1="67.6" y1="212.5" x2="67.6" y2="214.2"/>
<line x1="80.7" y1="337.8" x2="80.7" y2="336.9"/><line x1="80.7" y1="212.5" x2="80.7" y2="213.4"/>
<line x1="88.4" y1="337.8" x2="88.4" y2="336.9"/><line x1="88.4" y1="212.5" x2="88.4" y2="213.4"/>
<line x1="93.8" y1="337.8" x2="93.8" y2="336.9"/><line x1="93.8" y1="212.5" x2="93.8" y2="213.4"/>
<line x1="98.0" y1="337.8" x2="98.0" y2="336.9"/><line x1="98.0" y1="212.5" x2="98.0" y2="213.4"/>
<line x1="101.4" y1="337.8" x2="101.4" y2="336.9"/><line x1="101.4" y1="212.5" x2="101.4" y2="213.4"/>
<line x1="104.4" y1="337.8" x2="104.4" y2="336.9"/><line x1="104.4" y1="212.5" x2="104.4" y2="213.4"/>
<line x1="106.9" y1="337.8" x2="106.9" y2="336.9"/><line x1="106.9" y1="212.5" x2="106.9" y2="213.4"/>
<line x1="109.1" y1="337.8" x2="109.1" y2="336.9"/><line x1="109.1" y1="212.5" x2="109.1" y2="213.4"/>
<line x1="111.1" y1="337.8" x2="111.1" y2="336.1"/><line x1="111.1" y1="212.5" x2="111.1" y2="214.2"/>
<line x1="124.2" y1="337.8" x2="124.2" y2="336.9"/><line x1="124.2" y1="212.5" x2="124.2" y2="213.4"/>
<line x1="131.9" y1="337.8" x2="131.9" y2="336.9"/><line x1="131.9" y1="212.5" x2="131.9" y2="213.4"/>
<line x1="137.3" y1="337.8" x2="137.3" y2="336.9"/><line x1="137.3" y1="212.5" x2="137.3" y2="213.4"/>
<line x1="141.5" y1="337.8" x2="141.5" y2="336.9"/><line x1="141.5" y1="212.5" x2="141.5" y2="213.4"/>
<line x1="144.9" y1="337.8" x2="144.9" y2="336.9"/><line x1="144.9" y1="212.5" x2="144.9" y2="213.4"/>
<line x1="147.9" y1="337.8" x2="147.9" y2="336.9"/><line x1="147.9" y1="212.5" x2="147.9" y2="213.4"/>
<line x1="150.4" y1="337.8" x2="150.4" y2="336.9"/><line x1="150.4" y1="212.5" x2="150.4" y2="213.4"/>
<line x1="152.6" y1="337.8" x2="152.6" y2="336.9"/><line x1="152.6" y1="212.5" x2="152.6" y2="213.4"/>
<line x1="154.6" y1="337.8" x2="154.6" y2="336.1"/><line x1="154.6" y1="212.5" x2="154.6" y2="214.2"/>
<line x1="167.7" y1="337.8" x2="167.7" y2="336.9"/><line x1="167.7" y1="212.5" x2="167.7" y2="213.4"/>
</g>
<g font-size="10.2" fill="#262626" text-anchor="end">
<text x="45.8" y="341.4">0</text>
<text x="45.8" y="299.6">2000</text>
<text x="45.8" y="257.9">4000</text>
<text x="45.8" y="216.1">6000</text>
</g>
<g font-size="10" fill="#262626">
<text x="59.6" y="357.6">10<tspan font-size="8" dy="-5.0">2</tspan></text>
<text x="146.4" y="357.6">10<tspan font-size="8" dy="-5.0">4</tspan></text>
</g>
<text x="62.8" y="371.4" font-size="11.2" fill="#262626">Wavenumber (cm<tspan font-size="8.6" dy="-5.2">-1</tspan><tspan dy="5.2">)</tspan></text>
<text transform="translate(14.2,274.9) rotate(-90)" text-anchor="middle" font-size="11.6" fill="#262626"><tspan font-style="italic">σ</tspan><tspan font-size="8" dy="3.4">1</tspan><tspan dy="-3.4"> (S·cm</tspan><tspan font-size="8" dy="-4.8">-1</tspan><tspan dy="4.8">)</tspan></text>
<line x1="68.6" y1="296.4" x2="97.2" y2="296.4" stroke="#ff2418" stroke-width="1.8"/>
<text x="100.4" y="298.9" font-size="7" fill="#111">F3GT (15 ML)</text>
<line x1="68.6" y1="305.8" x2="97.2" y2="305.8" stroke="#1a12f5" stroke-width="1.8"/>
<text x="100.4" y="308.3" font-size="7" fill="#111">F5GT (15 ML)</text>
<line x1="68.6" y1="315.2" x2="97.2" y2="315.2" stroke="#dcaa2c" stroke-width="1.8"/>
<text x="100.4" y="317.7" font-size="7" fill="#111">F3GT (3 ML)</text>
<line x1="68.6" y1="324.6" x2="97.2" y2="324.6" stroke="#62ccf2" stroke-width="1.8"/>
<text x="100.4" y="327.1" font-size="7" fill="#111">F5GT (3 ML)</text>
<text x="62.6" y="236.6" font-size="17.4" fill="#111">(b)</text>
<text x="120.6" y="227.8" font-size="8.6" fill="#111">300 K</text></g>
<g id="pe"><rect x="46.4" y="380.4" width="133.7" height="66.6" fill="#fff" stroke="#262626" stroke-width="0.6"/>
<polyline points="46.6,409.6 49.4,411.8 52.3,412.2 54.9,403.5 57.7,407.8 60.6,406.3 63.4,406.3 66.3,410.7 69.1,409.6 72.0,400.6 74.8,408.3 77.7,410.7 80.5,401.3 83.4,409.6 86.2,406.3 89.0,408.3 91.9,415.1 94.7,415.5 97.6,435.7 100.4,438.5 103.3,438.5 106.1,440.5 109.0,434.6 111.6,425.4 114.4,410.0 117.3,397.3 120.1,393.4 123.0,396.7 125.8,389.7 128.7,394.9 131.5,389.7 134.4,392.1 137.2,396.5 140.1,396.5 142.9,399.1 145.8,414.0 148.6,400.8 151.5,404.1 154.3,409.4 157.1,404.1 160.0,412.4 162.8,404.1 165.7,397.3 168.5,410.0 171.4,413.3 174.2,403.0 177.1,405.7 179.9,416.8" fill="none" stroke="#2a2af0" stroke-width="0.6"/>
<g fill="#1212d6" stroke="#06066a" stroke-width="0.3">
<circle cx="46.6" cy="409.6" r="1.9"/>
<circle cx="49.4" cy="411.8" r="1.9"/>
<circle cx="52.3" cy="412.2" r="1.9"/>
<circle cx="54.9" cy="403.5" r="1.9"/>
<circle cx="57.7" cy="407.8" r="1.9"/>
<circle cx="60.6" cy="406.3" r="1.9"/>
<circle cx="63.4" cy="406.3" r="1.9"/>
<circle cx="66.3" cy="410.7" r="1.9"/>
<circle cx="69.1" cy="409.6" r="1.9"/>
<circle cx="72.0" cy="400.6" r="1.9"/>
<circle cx="74.8" cy="408.3" r="1.9"/>
<circle cx="77.7" cy="410.7" r="1.9"/>
<circle cx="80.5" cy="401.3" r="1.9"/>
<circle cx="83.4" cy="409.6" r="1.9"/>
<circle cx="86.2" cy="406.3" r="1.9"/>
<circle cx="89.0" cy="408.3" r="1.9"/>
<circle cx="91.9" cy="415.1" r="1.9"/>
<circle cx="94.7" cy="415.5" r="1.9"/>
<circle cx="97.6" cy="435.7" r="1.9"/>
<circle cx="100.4" cy="438.5" r="1.9"/>
<circle cx="103.3" cy="438.5" r="1.9"/>
<circle cx="106.1" cy="440.5" r="1.9"/>
<circle cx="109.0" cy="434.6" r="1.9"/>
<circle cx="111.6" cy="425.4" r="1.9"/>
<circle cx="114.4" cy="410.0" r="1.9"/>
<circle cx="117.3" cy="397.3" r="1.9"/>
<circle cx="120.1" cy="393.4" r="1.9"/>
<circle cx="123.0" cy="396.7" r="1.9"/>
<circle cx="125.8" cy="389.7" r="1.9"/>
<circle cx="128.7" cy="394.9" r="1.9"/>
<circle cx="131.5" cy="389.7" r="1.9"/>
<circle cx="134.4" cy="392.1" r="1.9"/>
<circle cx="137.2" cy="396.5" r="1.9"/>
<circle cx="140.1" cy="396.5" r="1.9"/>
<circle cx="142.9" cy="399.1" r="1.9"/>
<circle cx="145.8" cy="414.0" r="1.9"/>
<circle cx="148.6" cy="400.8" r="1.9"/>
<circle cx="151.5" cy="404.1" r="1.9"/>
<circle cx="154.3" cy="409.4" r="1.9"/>
<circle cx="157.1" cy="404.1" r="1.9"/>
<circle cx="160.0" cy="412.4" r="1.9"/>
<circle cx="162.8" cy="404.1" r="1.9"/>
<circle cx="165.7" cy="397.3" r="1.9"/>
<circle cx="168.5" cy="410.0" r="1.9"/>
<circle cx="171.4" cy="413.3" r="1.9"/>
<circle cx="174.2" cy="403.0" r="1.9"/>
<circle cx="177.1" cy="405.7" r="1.9"/>
<circle cx="179.9" cy="416.8" r="1.9"/>
</g>
<g stroke="#262626" stroke-width="0.6">
<line x1="66.0" y1="447.0" x2="66.0" y2="445.4"/><line x1="66.0" y1="380.4" x2="66.0" y2="382.0"/>
<line x1="94.4" y1="447.0" x2="94.4" y2="445.4"/><line x1="94.4" y1="380.4" x2="94.4" y2="382.0"/>
<line x1="122.8" y1="447.0" x2="122.8" y2="445.4"/><line x1="122.8" y1="380.4" x2="122.8" y2="382.0"/>
<line x1="151.2" y1="447.0" x2="151.2" y2="445.4"/><line x1="151.2" y1="380.4" x2="151.2" y2="382.0"/>
<line x1="46.4" y1="429.2" x2="48.0" y2="429.2"/><line x1="180.1" y1="429.2" x2="178.5" y2="429.2"/>
<line x1="46.4" y1="407.4" x2="48.0" y2="407.4"/><line x1="180.1" y1="407.4" x2="178.5" y2="407.4"/>
<line x1="46.4" y1="385.6" x2="48.0" y2="385.6"/><line x1="180.1" y1="385.6" x2="178.5" y2="385.6"/>
</g>
<g font-size="10" fill="#262626" text-anchor="middle">
<text x="64.6" y="460.4">-1</text>
<text x="94.4" y="460.4">0</text>
<text x="122.8" y="460.4">1</text>
<text x="151.2" y="460.4">2</text>
<text x="180.2" y="460.4">3</text>
</g>
<g font-size="10" fill="#262626" text-anchor="end">
<text x="43.4" y="432.8">-5</text>
<text x="43.4" y="411.0">0</text>
<text x="43.4" y="389.2">5</text>
</g>
<text x="75.8" y="474.0" font-size="10.75" fill="#262626">Time Delay (ps)</text>
<text transform="translate(29.8,414.0) rotate(-90)" text-anchor="middle" font-size="10.5" fill="#262626">THz ampl.</text>
<text x="50.3" y="393.6" font-size="10.4" fill="#262626">×</text><text x="57.9" y="393.6" font-size="10.4" fill="#262626">10<tspan font-size="8" dy="-4.5">-4</tspan></text>
<text x="54.8" y="435.4" font-size="17.4" fill="#111">(e)</text></g>
<g id="pd"><rect x="231.4" y="226.3" width="445.5" height="204.8" fill="#fff"/>
<g fill="#5fb6d8" stroke="#123c50" stroke-width="0.5"><path d="M231.0,297.2 l1.45,1.85 l-1.45,1.85 l-1.45,-1.85z"/><path d="M232.2,295.1 l1.45,1.85 l-1.45,1.85 l-1.45,-1.85z"/><path d="M233.3,297.1 l1.45,1.85 l-1.45,1.85 l-1.45,-1.85z"/><path d="M234.5,297.4 l1.45,1.85 l-1.45,1.85 l-1.45,-1.85z"/><path d="M235.6,299.1 l1.45,1.85 l-1.45,1.85 l-1.45,-1.85z"/><path d="M236.8,297.1 l1.45,1.85 l-1.45,1.85 l-1.45,-1.85z"/><path d="M237.9,293.5 l1.45,1.85 l-1.45,1.85 l-1.45,-1.85z"/><path d="M239.0,295.4 l1.45,1.85 l-1.45,1.85 l-1.45,-1.85z"/><path d="M240.2,293.7 l1.45,1.85 l-1.45,1.85 l-1.45,-1.85z"/><path d="M241.3,295.8 l1.45,1.85 l-1.45,1.85 l-1.45,-1.85z"/><path d="M242.5,295.4 l1.45,1.85 l-1.45,1.85 l-1.45,-1.85z"/><path d="M243.6,296.0 l1.45,1.85 l-1.45,1.85 l-1.45,-1.85z"/><path d="M244.7,301.1 l1.45,1.85 l-1.45,1.85 l-1.45,-1.85z"/><path d="M245.9,294.2 l1.45,1.85 l-1.45,1.85 l-1.45,-1.85z"/><path d="M247.0,295.1 l1.45,1.85 l-1.45,1.85 l-1.45,-1.85z"/><path d="M248.2,295.2 l1.45,1.85 l-1.45,1.85 l-1.45,-1.85z"/><path d="M249.3,301.1 l1.45,1.85 l-1.45,1.85 l-1.45,-1.85z"/><path d="M250.5,301.3 l1.45,1.85 l-1.45,1.85 l-1.45,-1.85z"/><path d="M251.6,298.9 l1.45,1.85 l-1.45,1.85 l-1.45,-1.85z"/><path d="M252.7,297.8 l1.45,1.85 l-1.45,1.85 l-1.45,-1.85z"/><path d="M253.9,295.7 l1.45,1.85 l-1.45,1.85 l-1.45,-1.85z"/><path d="M255.0,297.8 l1.45,1.85 l-1.45,1.85 l-1.45,-1.85z"/><path d="M256.2,299.1 l1.45,1.85 l-1.45,1.85 l-1.45,-1.85z"/><path d="M257.3,309.0 l1.45,1.85 l-1.45,1.85 l-1.45,-1.85z"/><path d="M258.4,318.1 l1.45,1.85 l-1.45,1.85 l-1.45,-1.85z"/><path d="M259.6,331.2 l1.45,1.85 l-1.45,1.85 l-1.45,-1.85z"/><path d="M260.7,350.0 l1.45,1.85 l-1.45,1.85 l-1.45,-1.85z"/><path d="M261.9,362.2 l1.45,1.85 l-1.45,1.85 l-1.45,-1.85z"/><path d="M263.0,381.8 l1.45,1.85 l-1.45,1.85 l-1.45,-1.85z"/><path d="M264.2,395.5 l1.45,1.85 l-1.45,1.85 l-1.45,-1.85z"/><path d="M265.3,408.9 l1.45,1.85 l-1.45,1.85 l-1.45,-1.85z"/><path d="M266.4,406.0 l1.45,1.85 l-1.45,1.85 l-1.45,-1.85z"/><path d="M267.6,399.8 l1.45,1.85 l-1.45,1.85 l-1.45,-1.85z"/><path d="M268.7,392.2 l1.45,1.85 l-1.45,1.85 l-1.45,-1.85z"/><path d="M269.9,382.9 l1.45,1.85 l-1.45,1.85 l-1.45,-1.85z"/><path d="M271.0,378.1 l1.45,1.85 l-1.45,1.85 l-1.45,-1.85z"/><path d="M272.2,375.9 l1.45,1.85 l-1.45,1.85 l-1.45,-1.85z"/><path d="M273.3,373.6 l1.45,1.85 l-1.45,1.85 l-1.45,-1.85z"/><path d="M274.4,369.2 l1.45,1.85 l-1.45,1.85 l-1.45,-1.85z"/><path d="M275.6,361.8 l1.45,1.85 l-1.45,1.85 l-1.45,-1.85z"/><path d="M276.7,365.1 l1.45,1.85 l-1.45,1.85 l-1.45,-1.85z"/><path d="M277.9,360.4 l1.45,1.85 l-1.45,1.85 l-1.45,-1.85z"/><path d="M279.0,358.0 l1.45,1.85 l-1.45,1.85 l-1.45,-1.85z"/><path d="M280.1,361.6 l1.45,1.85 l-1.45,1.85 l-1.45,-1.85z"/><path d="M281.3,355.9 l1.45,1.85 l-1.45,1.85 l-1.45,-1.85z"/><path d="M282.4,351.3 l1.45,1.85 l-1.45,1.85 l-1.45,-1.85z"/><path d="M283.6,359.6 l1.45,1.85 l-1.45,1.85 l-1.45,-1.85z"/><path d="M284.7,354.7 l1.45,1.85 l-1.45,1.85 l-1.45,-1.85z"/><path d="M285.9,354.1 l1.45,1.85 l-1.45,1.85 l-1.45,-1.85z"/><path d="M287.0,356.1 l1.45,1.85 l-1.45,1.85 l-1.45,-1.85z"/><path d="M288.1,352.5 l1.45,1.85 l-1.45,1.85 l-1.45,-1.85z"/><path d="M289.3,354.0 l1.45,1.85 l-1.45,1.85 l-1.45,-1.85z"/><path d="M290.4,357.8 l1.45,1.85 l-1.45,1.85 l-1.45,-1.85z"/><path d="M291.6,351.6 l1.45,1.85 l-1.45,1.85 l-1.45,-1.85z"/><path d="M292.7,352.0 l1.45,1.85 l-1.45,1.85 l-1.45,-1.85z"/><path d="M293.9,351.3 l1.45,1.85 l-1.45,1.85 l-1.45,-1.85z"/><path d="M295.0,349.9 l1.45,1.85 l-1.45,1.85 l-1.45,-1.85z"/><path d="M296.1,352.9 l1.45,1.85 l-1.45,1.85 l-1.45,-1.85z"/><path d="M297.3,353.5 l1.45,1.85 l-1.45,1.85 l-1.45,-1.85z"/><path d="M298.4,357.4 l1.45,1.85 l-1.45,1.85 l-1.45,-1.85z"/><path d="M299.6,352.2 l1.45,1.85 l-1.45,1.85 l-1.45,-1.85z"/><path d="M300.7,355.5 l1.45,1.85 l-1.45,1.85 l-1.45,-1.85z"/><path d="M301.8,355.4 l1.45,1.85 l-1.45,1.85 l-1.45,-1.85z"/><path d="M303.0,358.4 l1.45,1.85 l-1.45,1.85 l-1.45,-1.85z"/><path d="M304.1,358.7 l1.45,1.85 l-1.45,1.85 l-1.45,-1.85z"/><path d="M305.3,360.1 l1.45,1.85 l-1.45,1.85 l-1.45,-1.85z"/><path d="M306.4,358.3 l1.45,1.85 l-1.45,1.85 l-1.45,-1.85z"/><path d="M307.6,370.0 l1.45,1.85 l-1.45,1.85 l-1.45,-1.85z"/><path d="M308.7,371.0 l1.45,1.85 l-1.45,1.85 l-1.45,-1.85z"/><path d="M309.8,368.7 l1.45,1.85 l-1.45,1.85 l-1.45,-1.85z"/><path d="M311.0,366.9 l1.45,1.85 l-1.45,1.85 l-1.45,-1.85z"/><path d="M312.1,370.3 l1.45,1.85 l-1.45,1.85 l-1.45,-1.85z"/><path d="M313.3,378.0 l1.45,1.85 l-1.45,1.85 l-1.45,-1.85z"/><path d="M314.4,380.6 l1.45,1.85 l-1.45,1.85 l-1.45,-1.85z"/><path d="M315.5,373.4 l1.45,1.85 l-1.45,1.85 l-1.45,-1.85z"/><path d="M316.7,376.9 l1.45,1.85 l-1.45,1.85 l-1.45,-1.85z"/><path d="M317.8,378.3 l1.45,1.85 l-1.45,1.85 l-1.45,-1.85z"/><path d="M319.0,372.7 l1.45,1.85 l-1.45,1.85 l-1.45,-1.85z"/><path d="M320.1,372.4 l1.45,1.85 l-1.45,1.85 l-1.45,-1.85z"/><path d="M321.3,374.9 l1.45,1.85 l-1.45,1.85 l-1.45,-1.85z"/><path d="M322.4,374.6 l1.45,1.85 l-1.45,1.85 l-1.45,-1.85z"/><path d="M323.5,374.0 l1.45,1.85 l-1.45,1.85 l-1.45,-1.85z"/><path d="M324.7,370.7 l1.45,1.85 l-1.45,1.85 l-1.45,-1.85z"/><path d="M325.8,373.2 l1.45,1.85 l-1.45,1.85 l-1.45,-1.85z"/><path d="M327.0,373.3 l1.45,1.85 l-1.45,1.85 l-1.45,-1.85z"/><path d="M328.1,373.1 l1.45,1.85 l-1.45,1.85 l-1.45,-1.85z"/><path d="M329.3,378.7 l1.45,1.85 l-1.45,1.85 l-1.45,-1.85z"/><path d="M330.4,370.9 l1.45,1.85 l-1.45,1.85 l-1.45,-1.85z"/><path d="M331.5,371.7 l1.45,1.85 l-1.45,1.85 l-1.45,-1.85z"/><path d="M332.7,372.8 l1.45,1.85 l-1.45,1.85 l-1.45,-1.85z"/><path d="M333.8,379.5 l1.45,1.85 l-1.45,1.85 l-1.45,-1.85z"/><path d="M335.0,375.8 l1.45,1.85 l-1.45,1.85 l-1.45,-1.85z"/><path d="M336.1,371.7 l1.45,1.85 l-1.45,1.85 l-1.45,-1.85z"/><path d="M337.2,378.8 l1.45,1.85 l-1.45,1.85 l-1.45,-1.85z"/><path d="M338.4,374.3 l1.45,1.85 l-1.45,1.85 l-1.45,-1.85z"/><path d="M339.5,371.0 l1.45,1.85 l-1.45,1.85 l-1.45,-1.85z"/><path d="M340.7,377.3 l1.45,1.85 l-1.45,1.85 l-1.45,-1.85z"/><path d="M341.8,369.3 l1.45,1.85 l-1.45,1.85 l-1.45,-1.85z"/><path d="M343.0,372.1 l1.45,1.85 l-1.45,1.85 l-1.45,-1.85z"/><path d="M344.1,373.9 l1.45,1.85 l-1.45,1.85 l-1.45,-1.85z"/><path d="M345.2,372.6 l1.45,1.85 l-1.45,1.85 l-1.45,-1.85z"/><path d="M346.4,371.6 l1.45,1.85 l-1.45,1.85 l-1.45,-1.85z"/><path d="M347.5,373.0 l1.45,1.85 l-1.45,1.85 l-1.45,-1.85z"/><path d="M348.7,370.2 l1.45,1.85 l-1.45,1.85 l-1.45,-1.85z"/><path d="M349.8,375.0 l1.45,1.85 l-1.45,1.85 l-1.45,-1.85z"/><path d="M351.0,374.3 l1.45,1.85 l-1.45,1.85 l-1.45,-1.85z"/><path d="M352.1,370.3 l1.45,1.85 l-1.45,1.85 l-1.45,-1.85z"/><path d="M353.2,373.0 l1.45,1.85 l-1.45,1.85 l-1.45,-1.85z"/><path d="M354.4,375.4 l1.45,1.85 l-1.45,1.85 l-1.45,-1.85z"/><path d="M355.5,370.4 l1.45,1.85 l-1.45,1.85 l-1.45,-1.85z"/><path d="M356.7,368.9 l1.45,1.85 l-1.45,1.85 l-1.45,-1.85z"/><path d="M357.8,374.1 l1.45,1.85 l-1.45,1.85 l-1.45,-1.85z"/><path d="M358.9,376.6 l1.45,1.85 l-1.45,1.85 l-1.45,-1.85z"/><path d="M360.1,373.1 l1.45,1.85 l-1.45,1.85 l-1.45,-1.85z"/><path d="M361.2,373.1 l1.45,1.85 l-1.45,1.85 l-1.45,-1.85z"/><path d="M362.4,373.5 l1.45,1.85 l-1.45,1.85 l-1.45,-1.85z"/><path d="M363.5,368.8 l1.45,1.85 l-1.45,1.85 l-1.45,-1.85z"/><path d="M364.7,375.4 l1.45,1.85 l-1.45,1.85 l-1.45,-1.85z"/><path d="M365.8,369.1 l1.45,1.85 l-1.45,1.85 l-1.45,-1.85z"/><path d="M366.9,375.9 l1.45,1.85 l-1.45,1.85 l-1.45,-1.85z"/><path d="M368.1,374.6 l1.45,1.85 l-1.45,1.85 l-1.45,-1.85z"/><path d="M369.2,370.6 l1.45,1.85 l-1.45,1.85 l-1.45,-1.85z"/><path d="M370.4,369.2 l1.45,1.85 l-1.45,1.85 l-1.45,-1.85z"/><path d="M371.5,369.9 l1.45,1.85 l-1.45,1.85 l-1.45,-1.85z"/><path d="M372.6,371.3 l1.45,1.85 l-1.45,1.85 l-1.45,-1.85z"/><path d="M373.8,371.8 l1.45,1.85 l-1.45,1.85 l-1.45,-1.85z"/><path d="M374.9,371.7 l1.45,1.85 l-1.45,1.85 l-1.45,-1.85z"/><path d="M376.1,370.5 l1.45,1.85 l-1.45,1.85 l-1.45,-1.85z"/><path d="M377.2,372.5 l1.45,1.85 l-1.45,1.85 l-1.45,-1.85z"/><path d="M378.4,371.2 l1.45,1.85 l-1.45,1.85 l-1.45,-1.85z"/><path d="M379.5,370.3 l1.45,1.85 l-1.45,1.85 l-1.45,-1.85z"/><path d="M380.6,371.8 l1.45,1.85 l-1.45,1.85 l-1.45,-1.85z"/><path d="M381.8,369.7 l1.45,1.85 l-1.45,1.85 l-1.45,-1.85z"/><path d="M382.9,370.2 l1.45,1.85 l-1.45,1.85 l-1.45,-1.85z"/><path d="M384.1,366.2 l1.45,1.85 l-1.45,1.85 l-1.45,-1.85z"/><path d="M385.2,370.8 l1.45,1.85 l-1.45,1.85 l-1.45,-1.85z"/><path d="M386.4,372.8 l1.45,1.85 l-1.45,1.85 l-1.45,-1.85z"/><path d="M387.5,372.6 l1.45,1.85 l-1.45,1.85 l-1.45,-1.85z"/><path d="M388.6,371.6 l1.45,1.85 l-1.45,1.85 l-1.45,-1.85z"/><path d="M389.8,369.0 l1.45,1.85 l-1.45,1.85 l-1.45,-1.85z"/><path d="M390.9,372.4 l1.45,1.85 l-1.45,1.85 l-1.45,-1.85z"/><path d="M392.1,370.4 l1.45,1.85 l-1.45,1.85 l-1.45,-1.85z"/><path d="M393.2,366.4 l1.45,1.85 l-1.45,1.85 l-1.45,-1.85z"/><path d="M394.3,378.3 l1.45,1.85 l-1.45,1.85 l-1.45,-1.85z"/><path d="M395.5,374.3 l1.45,1.85 l-1.45,1.85 l-1.45,-1.85z"/><path d="M396.6,370.5 l1.45,1.85 l-1.45,1.85 l-1.45,-1.85z"/><path d="M397.8,370.1 l1.45,1.85 l-1.45,1.85 l-1.45,-1.85z"/><path d="M398.9,370.4 l1.45,1.85 l-1.45,1.85 l-1.45,-1.85z"/><path d="M400.1,372.2 l1.45,1.85 l-1.45,1.85 l-1.45,-1.85z"/><path d="M401.2,369.2 l1.45,1.85 l-1.45,1.85 l-1.45,-1.85z"/><path d="M402.3,370.1 l1.45,1.85 l-1.45,1.85 l-1.45,-1.85z"/><path d="M403.5,372.2 l1.45,1.85 l-1.45,1.85 l-1.45,-1.85z"/><path d="M404.6,364.1 l1.45,1.85 l-1.45,1.85 l-1.45,-1.85z"/><path d="M405.8,369.6 l1.45,1.85 l-1.45,1.85 l-1.45,-1.85z"/><path d="M406.9,372.0 l1.45,1.85 l-1.45,1.85 l-1.45,-1.85z"/><path d="M408.1,370.6 l1.45,1.85 l-1.45,1.85 l-1.45,-1.85z"/><path d="M409.2,370.8 l1.45,1.85 l-1.45,1.85 l-1.45,-1.85z"/><path d="M410.3,370.2 l1.45,1.85 l-1.45,1.85 l-1.45,-1.85z"/><path d="M411.5,377.3 l1.45,1.85 l-1.45,1.85 l-1.45,-1.85z"/><path d="M412.6,371.0 l1.45,1.85 l-1.45,1.85 l-1.45,-1.85z"/><path d="M413.8,366.8 l1.45,1.85 l-1.45,1.85 l-1.45,-1.85z"/><path d="M414.9,372.6 l1.45,1.85 l-1.45,1.85 l-1.45,-1.85z"/><path d="M416.0,369.4 l1.45,1.85 l-1.45,1.85 l-1.45,-1.85z"/><path d="M417.2,366.4 l1.45,1.85 l-1.45,1.85 l-1.45,-1.85z"/><path d="M418.3,366.5 l1.45,1.85 l-1.45,1.85 l-1.45,-1.85z"/><path d="M419.5,364.6 l1.45,1.85 l-1.45,1.85 l-1.45,-1.85z"/><path d="M420.6,373.1 l1.45,1.85 l-1.45,1.85 l-1.45,-1.85z"/><path d="M421.8,369.3 l1.45,1.85 l-1.45,1.85 l-1.45,-1.85z"/><path d="M422.9,369.1 l1.45,1.85 l-1.45,1.85 l-1.45,-1.85z"/><path d="M424.0,366.3 l1.45,1.85 l-1.45,1.85 l-1.45,-1.85z"/><path d="M425.2,364.8 l1.45,1.85 l-1.45,1.85 l-1.45,-1.85z"/></g>
<g fill="#5fb6d8" stroke="#123c50" stroke-width="0.5"><path d="M437.7,339.0 l1.45,1.85 l-1.45,1.85 l-1.45,-1.85z"/><path d="M439.8,329.2 l1.45,1.85 l-1.45,1.85 l-1.45,-1.85z"/><path d="M442.0,331.8 l1.45,1.85 l-1.45,1.85 l-1.45,-1.85z"/><path d="M444.2,325.8 l1.45,1.85 l-1.45,1.85 l-1.45,-1.85z"/><path d="M446.4,328.7 l1.45,1.85 l-1.45,1.85 l-1.45,-1.85z"/><path d="M448.6,324.4 l1.45,1.85 l-1.45,1.85 l-1.45,-1.85z"/><path d="M450.7,321.4 l1.45,1.85 l-1.45,1.85 l-1.45,-1.85z"/><path d="M452.9,323.1 l1.45,1.85 l-1.45,1.85 l-1.45,-1.85z"/><path d="M455.1,321.7 l1.45,1.85 l-1.45,1.85 l-1.45,-1.85z"/><path d="M457.3,319.9 l1.45,1.85 l-1.45,1.85 l-1.45,-1.85z"/><path d="M459.4,320.6 l1.45,1.85 l-1.45,1.85 l-1.45,-1.85z"/><path d="M461.6,320.5 l1.45,1.85 l-1.45,1.85 l-1.45,-1.85z"/><path d="M463.8,316.8 l1.45,1.85 l-1.45,1.85 l-1.45,-1.85z"/><path d="M466.0,317.2 l1.45,1.85 l-1.45,1.85 l-1.45,-1.85z"/><path d="M468.1,319.3 l1.45,1.85 l-1.45,1.85 l-1.45,-1.85z"/><path d="M470.3,313.0 l1.45,1.85 l-1.45,1.85 l-1.45,-1.85z"/><path d="M472.5,320.1 l1.45,1.85 l-1.45,1.85 l-1.45,-1.85z"/><path d="M474.7,315.7 l1.45,1.85 l-1.45,1.85 l-1.45,-1.85z"/><path d="M476.8,317.5 l1.45,1.85 l-1.45,1.85 l-1.45,-1.85z"/><path d="M479.0,316.4 l1.45,1.85 l-1.45,1.85 l-1.45,-1.85z"/><path d="M481.2,314.9 l1.45,1.85 l-1.45,1.85 l-1.45,-1.85z"/><path d="M483.4,315.5 l1.45,1.85 l-1.45,1.85 l-1.45,-1.85z"/><path d="M485.5,314.3 l1.45,1.85 l-1.45,1.85 l-1.45,-1.85z"/><path d="M487.7,318.2 l1.45,1.85 l-1.45,1.85 l-1.45,-1.85z"/><path d="M489.9,317.8 l1.45,1.85 l-1.45,1.85 l-1.45,-1.85z"/><path d="M492.1,313.4 l1.45,1.85 l-1.45,1.85 l-1.45,-1.85z"/><path d="M494.3,316.1 l1.45,1.85 l-1.45,1.85 l-1.45,-1.85z"/><path d="M496.4,316.0 l1.45,1.85 l-1.45,1.85 l-1.45,-1.85z"/><path d="M498.6,316.6 l1.45,1.85 l-1.45,1.85 l-1.45,-1.85z"/><path d="M500.8,311.0 l1.45,1.85 l-1.45,1.85 l-1.45,-1.85z"/><path d="M503.0,311.7 l1.45,1.85 l-1.45,1.85 l-1.45,-1.85z"/><path d="M505.1,310.1 l1.45,1.85 l-1.45,1.85 l-1.45,-1.85z"/><path d="M507.3,314.5 l1.45,1.85 l-1.45,1.85 l-1.45,-1.85z"/><path d="M509.5,312.4 l1.45,1.85 l-1.45,1.85 l-1.45,-1.85z"/><path d="M511.7,314.4 l1.45,1.85 l-1.45,1.85 l-1.45,-1.85z"/><path d="M513.8,310.5 l1.45,1.85 l-1.45,1.85 l-1.45,-1.85z"/><path d="M516.0,308.7 l1.45,1.85 l-1.45,1.85 l-1.45,-1.85z"/><path d="M518.2,313.2 l1.45,1.85 l-1.45,1.85 l-1.45,-1.85z"/><path d="M520.4,308.3 l1.45,1.85 l-1.45,1.85 l-1.45,-1.85z"/><path d="M522.5,309.2 l1.45,1.85 l-1.45,1.85 l-1.45,-1.85z"/><path d="M524.7,311.2 l1.45,1.85 l-1.45,1.85 l-1.45,-1.85z"/><path d="M526.9,314.5 l1.45,1.85 l-1.45,1.85 l-1.45,-1.85z"/><path d="M529.1,307.8 l1.45,1.85 l-1.45,1.85 l-1.45,-1.85z"/><path d="M531.2,310.5 l1.45,1.85 l-1.45,1.85 l-1.45,-1.85z"/><path d="M533.4,311.3 l1.45,1.85 l-1.45,1.85 l-1.45,-1.85z"/><path d="M535.6,309.2 l1.45,1.85 l-1.45,1.85 l-1.45,-1.85z"/><path d="M537.8,309.0 l1.45,1.85 l-1.45,1.85 l-1.45,-1.85z"/><path d="M540.0,306.7 l1.45,1.85 l-1.45,1.85 l-1.45,-1.85z"/><path d="M542.1,311.4 l1.45,1.85 l-1.45,1.85 l-1.45,-1.85z"/><path d="M544.3,307.0 l1.45,1.85 l-1.45,1.85 l-1.45,-1.85z"/><path d="M546.5,306.2 l1.45,1.85 l-1.45,1.85 l-1.45,-1.85z"/><path d="M548.7,306.1 l1.45,1.85 l-1.45,1.85 l-1.45,-1.85z"/><path d="M550.8,309.1 l1.45,1.85 l-1.45,1.85 l-1.45,-1.85z"/><path d="M553.0,310.0 l1.45,1.85 l-1.45,1.85 l-1.45,-1.85z"/><path d="M555.2,306.4 l1.45,1.85 l-1.45,1.85 l-1.45,-1.85z"/><path d="M557.4,308.0 l1.45,1.85 l-1.45,1.85 l-1.45,-1.85z"/><path d="M559.5,307.8 l1.45,1.85 l-1.45,1.85 l-1.45,-1.85z"/><path d="M561.7,305.2 l1.45,1.85 l-1.45,1.85 l-1.45,-1.85z"/><path d="M563.9,308.3 l1.45,1.85 l-1.45,1.85 l-1.45,-1.85z"/><path d="M566.1,312.0 l1.45,1.85 l-1.45,1.85 l-1.45,-1.85z"/><path d="M568.2,308.2 l1.45,1.85 l-1.45,1.85 l-1.45,-1.85z"/><path d="M570.4,310.9 l1.45,1.85 l-1.45,1.85 l-1.45,-1.85z"/><path d="M572.6,305.6 l1.45,1.85 l-1.45,1.85 l-1.45,-1.85z"/><path d="M574.8,306.4 l1.45,1.85 l-1.45,1.85 l-1.45,-1.85z"/><path d="M576.9,308.0 l1.45,1.85 l-1.45,1.85 l-1.45,-1.85z"/><path d="M579.1,306.7 l1.45,1.85 l-1.45,1.85 l-1.45,-1.85z"/><path d="M581.3,304.9 l1.45,1.85 l-1.45,1.85 l-1.45,-1.85z"/><path d="M583.5,306.2 l1.45,1.85 l-1.45,1.85 l-1.45,-1.85z"/><path d="M585.7,303.7 l1.45,1.85 l-1.45,1.85 l-1.45,-1.85z"/><path d="M587.8,306.2 l1.45,1.85 l-1.45,1.85 l-1.45,-1.85z"/><path d="M590.0,303.9 l1.45,1.85 l-1.45,1.85 l-1.45,-1.85z"/><path d="M592.2,302.9 l1.45,1.85 l-1.45,1.85 l-1.45,-1.85z"/><path d="M594.4,302.5 l1.45,1.85 l-1.45,1.85 l-1.45,-1.85z"/><path d="M596.5,306.7 l1.45,1.85 l-1.45,1.85 l-1.45,-1.85z"/><path d="M598.7,303.6 l1.45,1.85 l-1.45,1.85 l-1.45,-1.85z"/><path d="M600.9,308.8 l1.45,1.85 l-1.45,1.85 l-1.45,-1.85z"/><path d="M603.1,307.1 l1.45,1.85 l-1.45,1.85 l-1.45,-1.85z"/><path d="M605.2,308.6 l1.45,1.85 l-1.45,1.85 l-1.45,-1.85z"/><path d="M607.4,302.6 l1.45,1.85 l-1.45,1.85 l-1.45,-1.85z"/><path d="M609.6,306.9 l1.45,1.85 l-1.45,1.85 l-1.45,-1.85z"/><path d="M611.8,304.4 l1.45,1.85 l-1.45,1.85 l-1.45,-1.85z"/><path d="M613.9,304.6 l1.45,1.85 l-1.45,1.85 l-1.45,-1.85z"/><path d="M616.1,304.2 l1.45,1.85 l-1.45,1.85 l-1.45,-1.85z"/><path d="M618.3,305.1 l1.45,1.85 l-1.45,1.85 l-1.45,-1.85z"/><path d="M620.5,303.4 l1.45,1.85 l-1.45,1.85 l-1.45,-1.85z"/><path d="M622.6,300.3 l1.45,1.85 l-1.45,1.85 l-1.45,-1.85z"/><path d="M624.8,303.5 l1.45,1.85 l-1.45,1.85 l-1.45,-1.85z"/><path d="M627.0,302.5 l1.45,1.85 l-1.45,1.85 l-1.45,-1.85z"/><path d="M629.2,301.4 l1.45,1.85 l-1.45,1.85 l-1.45,-1.85z"/><path d="M631.4,303.6 l1.45,1.85 l-1.45,1.85 l-1.45,-1.85z"/><path d="M633.5,305.6 l1.45,1.85 l-1.45,1.85 l-1.45,-1.85z"/><path d="M635.7,304.1 l1.45,1.85 l-1.45,1.85 l-1.45,-1.85z"/><path d="M637.9,300.9 l1.45,1.85 l-1.45,1.85 l-1.45,-1.85z"/><path d="M640.1,306.0 l1.45,1.85 l-1.45,1.85 l-1.45,-1.85z"/><path d="M642.2,303.9 l1.45,1.85 l-1.45,1.85 l-1.45,-1.85z"/><path d="M644.4,300.7 l1.45,1.85 l-1.45,1.85 l-1.45,-1.85z"/><path d="M646.6,301.0 l1.45,1.85 l-1.45,1.85 l-1.45,-1.85z"/><path d="M648.8,302.5 l1.45,1.85 l-1.45,1.85 l-1.45,-1.85z"/><path d="M650.9,300.9 l1.45,1.85 l-1.45,1.85 l-1.45,-1.85z"/><path d="M653.1,302.0 l1.45,1.85 l-1.45,1.85 l-1.45,-1.85z"/><path d="M655.3,304.6 l1.45,1.85 l-1.45,1.85 l-1.45,-1.85z"/><path d="M657.5,305.2 l1.45,1.85 l-1.45,1.85 l-1.45,-1.85z"/><path d="M659.6,303.4 l1.45,1.85 l-1.45,1.85 l-1.45,-1.85z"/><path d="M661.8,300.3 l1.45,1.85 l-1.45,1.85 l-1.45,-1.85z"/><path d="M664.0,303.1 l1.45,1.85 l-1.45,1.85 l-1.45,-1.85z"/><path d="M666.2,303.7 l1.45,1.85 l-1.45,1.85 l-1.45,-1.85z"/><path d="M668.3,303.4 l1.45,1.85 l-1.45,1.85 l-1.45,-1.85z"/><path d="M670.5,304.8 l1.45,1.85 l-1.45,1.85 l-1.45,-1.85z"/><path d="M672.7,302.0 l1.45,1.85 l-1.45,1.85 l-1.45,-1.85z"/><path d="M674.9,304.0 l1.45,1.85 l-1.45,1.85 l-1.45,-1.85z"/></g>
<g fill="#e6c21e" stroke="#4a3a00" stroke-width="0.5"><path d="M231.0,293.4 l1.45,1.85 l-1.45,1.85 l-1.45,-1.85z"/><path d="M232.2,299.6 l1.45,1.85 l-1.45,1.85 l-1.45,-1.85z"/><path d="M233.3,293.5 l1.45,1.85 l-1.45,1.85 l-1.45,-1.85z"/><path d="M234.5,295.7 l1.45,1.85 l-1.45,1.85 l-1.45,-1.85z"/><path d="M235.6,298.7 l1.45,1.85 l-1.45,1.85 l-1.45,-1.85z"/><path d="M236.8,292.6 l1.45,1.85 l-1.45,1.85 l-1.45,-1.85z"/><path d="M237.9,294.9 l1.45,1.85 l-1.45,1.85 l-1.45,-1.85z"/><path d="M239.0,299.3 l1.45,1.85 l-1.45,1.85 l-1.45,-1.85z"/><path d="M240.2,296.2 l1.45,1.85 l-1.45,1.85 l-1.45,-1.85z"/><path d="M241.3,293.6 l1.45,1.85 l-1.45,1.85 l-1.45,-1.85z"/><path d="M242.5,295.3 l1.45,1.85 l-1.45,1.85 l-1.45,-1.85z"/><path d="M243.6,292.5 l1.45,1.85 l-1.45,1.85 l-1.45,-1.85z"/><path d="M244.7,292.6 l1.45,1.85 l-1.45,1.85 l-1.45,-1.85z"/><path d="M245.9,292.7 l1.45,1.85 l-1.45,1.85 l-1.45,-1.85z"/><path d="M247.0,293.5 l1.45,1.85 l-1.45,1.85 l-1.45,-1.85z"/><path d="M248.2,291.2 l1.45,1.85 l-1.45,1.85 l-1.45,-1.85z"/><path d="M249.3,292.8 l1.45,1.85 l-1.45,1.85 l-1.45,-1.85z"/><path d="M250.5,293.2 l1.45,1.85 l-1.45,1.85 l-1.45,-1.85z"/><path d="M251.6,299.0 l1.45,1.85 l-1.45,1.85 l-1.45,-1.85z"/><path d="M252.7,292.2 l1.45,1.85 l-1.45,1.85 l-1.45,-1.85z"/><path d="M253.9,291.3 l1.45,1.85 l-1.45,1.85 l-1.45,-1.85z"/><path d="M255.0,296.1 l1.45,1.85 l-1.45,1.85 l-1.45,-1.85z"/><path d="M256.2,299.3 l1.45,1.85 l-1.45,1.85 l-1.45,-1.85z"/><path d="M257.3,300.6 l1.45,1.85 l-1.45,1.85 l-1.45,-1.85z"/><path d="M258.4,320.4 l1.45,1.85 l-1.45,1.85 l-1.45,-1.85z"/><path d="M259.6,327.8 l1.45,1.85 l-1.45,1.85 l-1.45,-1.85z"/><path d="M260.7,337.2 l1.45,1.85 l-1.45,1.85 l-1.45,-1.85z"/><path d="M261.9,359.9 l1.45,1.85 l-1.45,1.85 l-1.45,-1.85z"/><path d="M263.0,368.2 l1.45,1.85 l-1.45,1.85 l-1.45,-1.85z"/><path d="M264.2,374.5 l1.45,1.85 l-1.45,1.85 l-1.45,-1.85z"/><path d="M265.3,383.6 l1.45,1.85 l-1.45,1.85 l-1.45,-1.85z"/><path d="M266.4,380.5 l1.45,1.85 l-1.45,1.85 l-1.45,-1.85z"/><path d="M267.6,376.8 l1.45,1.85 l-1.45,1.85 l-1.45,-1.85z"/><path d="M268.7,377.1 l1.45,1.85 l-1.45,1.85 l-1.45,-1.85z"/><path d="M269.9,370.7 l1.45,1.85 l-1.45,1.85 l-1.45,-1.85z"/><path d="M271.0,365.7 l1.45,1.85 l-1.45,1.85 l-1.45,-1.85z"/><path d="M272.2,361.0 l1.45,1.85 l-1.45,1.85 l-1.45,-1.85z"/><path d="M273.3,359.8 l1.45,1.85 l-1.45,1.85 l-1.45,-1.85z"/><path d="M274.4,357.1 l1.45,1.85 l-1.45,1.85 l-1.45,-1.85z"/><path d="M275.6,356.3 l1.45,1.85 l-1.45,1.85 l-1.45,-1.85z"/><path d="M276.7,352.4 l1.45,1.85 l-1.45,1.85 l-1.45,-1.85z"/><path d="M277.9,347.4 l1.45,1.85 l-1.45,1.85 l-1.45,-1.85z"/><path d="M279.0,347.2 l1.45,1.85 l-1.45,1.85 l-1.45,-1.85z"/><path d="M280.1,347.5 l1.45,1.85 l-1.45,1.85 l-1.45,-1.85z"/><path d="M281.3,345.9 l1.45,1.85 l-1.45,1.85 l-1.45,-1.85z"/><path d="M282.4,336.4 l1.45,1.85 l-1.45,1.85 l-1.45,-1.85z"/><path d="M283.6,338.5 l1.45,1.85 l-1.45,1.85 l-1.45,-1.85z"/><path d="M284.7,338.2 l1.45,1.85 l-1.45,1.85 l-1.45,-1.85z"/><path d="M285.9,344.3 l1.45,1.85 l-1.45,1.85 l-1.45,-1.85z"/><path d="M287.0,336.0 l1.45,1.85 l-1.45,1.85 l-1.45,-1.85z"/><path d="M288.1,335.7 l1.45,1.85 l-1.45,1.85 l-1.45,-1.85z"/><path d="M289.3,332.6 l1.45,1.85 l-1.45,1.85 l-1.45,-1.85z"/><path d="M290.4,335.2 l1.45,1.85 l-1.45,1.85 l-1.45,-1.85z"/><path d="M291.6,336.0 l1.45,1.85 l-1.45,1.85 l-1.45,-1.85z"/><path d="M292.7,334.4 l1.45,1.85 l-1.45,1.85 l-1.45,-1.85z"/><path d="M293.9,339.8 l1.45,1.85 l-1.45,1.85 l-1.45,-1.85z"/><path d="M295.0,332.8 l1.45,1.85 l-1.45,1.85 l-1.45,-1.85z"/><path d="M296.1,334.2 l1.45,1.85 l-1.45,1.85 l-1.45,-1.85z"/><path d="M297.3,336.4 l1.45,1.85 l-1.45,1.85 l-1.45,-1.85z"/><path d="M298.4,331.7 l1.45,1.85 l-1.45,1.85 l-1.45,-1.85z"/><path d="M299.6,330.5 l1.45,1.85 l-1.45,1.85 l-1.45,-1.85z"/><path d="M300.7,337.7 l1.45,1.85 l-1.45,1.85 l-1.45,-1.85z"/><path d="M301.8,336.1 l1.45,1.85 l-1.45,1.85 l-1.45,-1.85z"/><path d="M303.0,334.6 l1.45,1.85 l-1.45,1.85 l-1.45,-1.85z"/><path d="M304.1,336.4 l1.45,1.85 l-1.45,1.85 l-1.45,-1.85z"/><path d="M305.3,342.5 l1.45,1.85 l-1.45,1.85 l-1.45,-1.85z"/><path d="M306.4,349.2 l1.45,1.85 l-1.45,1.85 l-1.45,-1.85z"/><path d="M307.6,345.2 l1.45,1.85 l-1.45,1.85 l-1.45,-1.85z"/><path d="M308.7,350.1 l1.45,1.85 l-1.45,1.85 l-1.45,-1.85z"/><path d="M309.8,356.6 l1.45,1.85 l-1.45,1.85 l-1.45,-1.85z"/><path d="M311.0,357.7 l1.45,1.85 l-1.45,1.85 l-1.45,-1.85z"/><path d="M312.1,351.4 l1.45,1.85 l-1.45,1.85 l-1.45,-1.85z"/><path d="M313.3,353.6 l1.45,1.85 l-1.45,1.85 l-1.45,-1.85z"/><path d="M314.4,352.2 l1.45,1.85 l-1.45,1.85 l-1.45,-1.85z"/><path d="M315.5,354.9 l1.45,1.85 l-1.45,1.85 l-1.45,-1.85z"/><path d="M316.7,359.0 l1.45,1.85 l-1.45,1.85 l-1.45,-1.85z"/><path d="M317.8,356.6 l1.45,1.85 l-1.45,1.85 l-1.45,-1.85z"/><path d="M319.0,362.1 l1.45,1.85 l-1.45,1.85 l-1.45,-1.85z"/><path d="M320.1,358.9 l1.45,1.85 l-1.45,1.85 l-1.45,-1.85z"/><path d="M321.3,357.3 l1.45,1.85 l-1.45,1.85 l-1.45,-1.85z"/><path d="M322.4,355.8 l1.45,1.85 l-1.45,1.85 l-1.45,-1.85z"/><path d="M323.5,358.4 l1.45,1.85 l-1.45,1.85 l-1.45,-1.85z"/><path d="M324.7,356.8 l1.45,1.85 l-1.45,1.85 l-1.45,-1.85z"/><path d="M325.8,355.3 l1.45,1.85 l-1.45,1.85 l-1.45,-1.85z"/><path d="M327.0,355.2 l1.45,1.85 l-1.45,1.85 l-1.45,-1.85z"/><path d="M328.1,354.3 l1.45,1.85 l-1.45,1.85 l-1.45,-1.85z"/><path d="M329.3,355.0 l1.45,1.85 l-1.45,1.85 l-1.45,-1.85z"/><path d="M330.4,356.0 l1.45,1.85 l-1.45,1.85 l-1.45,-1.85z"/><path d="M331.5,353.2 l1.45,1.85 l-1.45,1.85 l-1.45,-1.85z"/><path d="M332.7,354.6 l1.45,1.85 l-1.45,1.85 l-1.45,-1.85z"/><path d="M333.8,356.3 l1.45,1.85 l-1.45,1.85 l-1.45,-1.85z"/><path d="M335.0,355.6 l1.45,1.85 l-1.45,1.85 l-1.45,-1.85z"/><path d="M336.1,353.9 l1.45,1.85 l-1.45,1.85 l-1.45,-1.85z"/><path d="M337.2,353.8 l1.45,1.85 l-1.45,1.85 l-1.45,-1.85z"/><path d="M338.4,352.9 l1.45,1.85 l-1.45,1.85 l-1.45,-1.85z"/><path d="M339.5,352.9 l1.45,1.85 l-1.45,1.85 l-1.45,-1.85z"/><path d="M340.7,352.2 l1.45,1.85 l-1.45,1.85 l-1.45,-1.85z"/><path d="M341.8,352.5 l1.45,1.85 l-1.45,1.85 l-1.45,-1.85z"/><path d="M343.0,354.7 l1.45,1.85 l-1.45,1.85 l-1.45,-1.85z"/><path d="M344.1,350.6 l1.45,1.85 l-1.45,1.85 l-1.45,-1.85z"/><path d="M345.2,348.8 l1.45,1.85 l-1.45,1.85 l-1.45,-1.85z"/><path d="M346.4,349.9 l1.45,1.85 l-1.45,1.85 l-1.45,-1.85z"/><path d="M347.5,351.0 l1.45,1.85 l-1.45,1.85 l-1.45,-1.85z"/><path d="M348.7,349.2 l1.45,1.85 l-1.45,1.85 l-1.45,-1.85z"/><path d="M349.8,352.1 l1.45,1.85 l-1.45,1.85 l-1.45,-1.85z"/><path d="M351.0,353.9 l1.45,1.85 l-1.45,1.85 l-1.45,-1.85z"/><path d="M352.1,349.2 l1.45,1.85 l-1.45,1.85 l-1.45,-1.85z"/><path d="M353.2,351.2 l1.45,1.85 l-1.45,1.85 l-1.45,-1.85z"/><path d="M354.4,347.1 l1.45,1.85 l-1.45,1.85 l-1.45,-1.85z"/><path d="M355.5,351.0 l1.45,1.85 l-1.45,1.85 l-1.45,-1.85z"/><path d="M356.7,354.3 l1.45,1.85 l-1.45,1.85 l-1.45,-1.85z"/><path d="M357.8,350.5 l1.45,1.85 l-1.45,1.85 l-1.45,-1.85z"/><path d="M358.9,344.4 l1.45,1.85 l-1.45,1.85 l-1.45,-1.85z"/><path d="M360.1,348.7 l1.45,1.85 l-1.45,1.85 l-1.45,-1.85z"/><path d="M361.2,350.8 l1.45,1.85 l-1.45,1.85 l-1.45,-1.85z"/><path d="M362.4,349.3 l1.45,1.85 l-1.45,1.85 l-1.45,-1.85z"/><path d="M363.5,346.2 l1.45,1.85 l-1.45,1.85 l-1.45,-1.85z"/><path d="M364.7,346.1 l1.45,1.85 l-1.45,1.85 l-1.45,-1.85z"/><path d="M365.8,346.7 l1.45,1.85 l-1.45,1.85 l-1.45,-1.85z"/><path d="M366.9,343.6 l1.45,1.85 l-1.45,1.85 l-1.45,-1.85z"/><path d="M368.1,345.3 l1.45,1.85 l-1.45,1.85 l-1.45,-1.85z"/><path d="M369.2,346.8 l1.45,1.85 l-1.45,1.85 l-1.45,-1.85z"/><path d="M370.4,345.3 l1.45,1.85 l-1.45,1.85 l-1.45,-1.85z"/><path d="M371.5,342.8 l1.45,1.85 l-1.45,1.85 l-1.45,-1.85z"/><path d="M372.6,344.2 l1.45,1.85 l-1.45,1.85 l-1.45,-1.85z"/><path d="M373.8,344.0 l1.45,1.85 l-1.45,1.85 l-1.45,-1.85z"/><path d="M374.9,348.7 l1.45,1.85 l-1.45,1.85 l-1.45,-1.85z"/><path d="M376.1,346.4 l1.45,1.85 l-1.45,1.85 l-1.45,-1.85z"/><path d="M377.2,344.3 l1.45,1.85 l-1.45,1.85 l-1.45,-1.85z"/><path d="M378.4,346.6 l1.45,1.85 l-1.45,1.85 l-1.45,-1.85z"/><path d="M379.5,343.4 l1.45,1.85 l-1.45,1.85 l-1.45,-1.85z"/><path d="M380.6,344.3 l1.45,1.85 l-1.45,1.85 l-1.45,-1.85z"/><path d="M381.8,343.5 l1.45,1.85 l-1.45,1.85 l-1.45,-1.85z"/><path d="M382.9,346.0 l1.45,1.85 l-1.45,1.85 l-1.45,-1.85z"/><path d="M384.1,339.6 l1.45,1.85 l-1.45,1.85 l-1.45,-1.85z"/><path d="M385.2,342.5 l1.45,1.85 l-1.45,1.85 l-1.45,-1.85z"/><path d="M386.4,345.7 l1.45,1.85 l-1.45,1.85 l-1.45,-1.85z"/><path d="M387.5,344.9 l1.45,1.85 l-1.45,1.85 l-1.45,-1.85z"/><path d="M388.6,339.1 l1.45,1.85 l-1.45,1.85 l-1.45,-1.85z"/><path d="M389.8,345.6 l1.45,1.85 l-1.45,1.85 l-1.45,-1.85z"/><path d="M390.9,342.8 l1.45,1.85 l-1.45,1.85 l-1.45,-1.85z"/><path d="M392.1,342.4 l1.45,1.85 l-1.45,1.85 l-1.45,-1.85z"/><path d="M393.2,344.5 l1.45,1.85 l-1.45,1.85 l-1.45,-1.85z"/><path d="M394.3,347.1 l1.45,1.85 l-1.45,1.85 l-1.45,-1.85z"/><path d="M395.5,343.9 l1.45,1.85 l-1.45,1.85 l-1.45,-1.85z"/><path d="M396.6,343.4 l1.45,1.85 l-1.45,1.85 l-1.45,-1.85z"/><path d="M397.8,341.5 l1.45,1.85 l-1.45,1.85 l-1.45,-1.85z"/><path d="M398.9,342.2 l1.45,1.85 l-1.45,1.85 l-1.45,-1.85z"/><path d="M400.1,343.8 l1.45,1.85 l-1.45,1.85 l-1.45,-1.85z"/><path d="M401.2,341.8 l1.45,1.85 l-1.45,1.85 l-1.45,-1.85z"/><path d="M402.3,342.4 l1.45,1.85 l-1.45,1.85 l-1.45,-1.85z"/><path d="M403.5,343.1 l1.45,1.85 l-1.45,1.85 l-1.45,-1.85z"/><path d="M404.6,343.3 l1.45,1.85 l-1.45,1.85 l-1.45,-1.85z"/><path d="M405.8,343.9 l1.45,1.85 l-1.45,1.85 l-1.45,-1.85z"/><path d="M406.9,341.7 l1.45,1.85 l-1.45,1.85 l-1.45,-1.85z"/><path d="M408.1,345.5 l1.45,1.85 l-1.45,1.85 l-1.45,-1.85z"/><path d="M409.2,344.5 l1.45,1.85 l-1.45,1.85 l-1.45,-1.85z"/><path d="M410.3,342.9 l1.45,1.85 l-1.45,1.85 l-1.45,-1.85z"/><path d="M411.5,346.1 l1.45,1.85 l-1.45,1.85 l-1.45,-1.85z"/><path d="M412.6,343.7 l1.45,1.85 l-1.45,1.85 l-1.45,-1.85z"/><path d="M413.8,347.2 l1.45,1.85 l-1.45,1.85 l-1.45,-1.85z"/><path d="M414.9,344.1 l1.45,1.85 l-1.45,1.85 l-1.45,-1.85z"/><path d="M416.0,341.1 l1.45,1.85 l-1.45,1.85 l-1.45,-1.85z"/><path d="M417.2,341.0 l1.45,1.85 l-1.45,1.85 l-1.45,-1.85z"/><path d="M418.3,342.3 l1.45,1.85 l-1.45,1.85 l-1.45,-1.85z"/><path d="M419.5,342.6 l1.45,1.85 l-1.45,1.85 l-1.45,-1.85z"/><path d="M420.6,345.2 l1.45,1.85 l-1.45,1.85 l-1.45,-1.85z"/><path d="M421.8,337.7 l1.45,1.85 l-1.45,1.85 l-1.45,-1.85z"/><path d="M422.9,340.6 l1.45,1.85 l-1.45,1.85 l-1.45,-1.85z"/><path d="M424.0,339.2 l1.45,1.85 l-1.45,1.85 l-1.45,-1.85z"/><path d="M425.2,343.6 l1.45,1.85 l-1.45,1.85 l-1.45,-1.85z"/></g>
<g fill="#e6c21e" stroke="#4a3a00" stroke-width="0.5"><path d="M437.7,330.8 l1.45,1.85 l-1.45,1.85 l-1.45,-1.85z"/><path d="M439.8,330.9 l1.45,1.85 l-1.45,1.85 l-1.45,-1.85z"/><path d="M441.9,323.8 l1.45,1.85 l-1.45,1.85 l-1.45,-1.85z"/><path d="M444.0,321.3 l1.45,1.85 l-1.45,1.85 l-1.45,-1.85z"/><path d="M446.1,324.6 l1.45,1.85 l-1.45,1.85 l-1.45,-1.85z"/><path d="M448.2,320.1 l1.45,1.85 l-1.45,1.85 l-1.45,-1.85z"/><path d="M450.3,317.7 l1.45,1.85 l-1.45,1.85 l-1.45,-1.85z"/><path d="M452.4,320.7 l1.45,1.85 l-1.45,1.85 l-1.45,-1.85z"/><path d="M454.5,319.9 l1.45,1.85 l-1.45,1.85 l-1.45,-1.85z"/><path d="M456.6,317.8 l1.45,1.85 l-1.45,1.85 l-1.45,-1.85z"/><path d="M458.7,316.4 l1.45,1.85 l-1.45,1.85 l-1.45,-1.85z"/><path d="M460.8,317.2 l1.45,1.85 l-1.45,1.85 l-1.45,-1.85z"/><path d="M462.9,314.2 l1.45,1.85 l-1.45,1.85 l-1.45,-1.85z"/><path d="M465.0,313.3 l1.45,1.85 l-1.45,1.85 l-1.45,-1.85z"/><path d="M467.2,312.1 l1.45,1.85 l-1.45,1.85 l-1.45,-1.85z"/><path d="M469.3,311.5 l1.45,1.85 l-1.45,1.85 l-1.45,-1.85z"/><path d="M471.4,309.7 l1.45,1.85 l-1.45,1.85 l-1.45,-1.85z"/><path d="M473.5,309.8 l1.45,1.85 l-1.45,1.85 l-1.45,-1.85z"/><path d="M475.6,313.6 l1.45,1.85 l-1.45,1.85 l-1.45,-1.85z"/><path d="M477.7,311.8 l1.45,1.85 l-1.45,1.85 l-1.45,-1.85z"/><path d="M479.8,312.4 l1.45,1.85 l-1.45,1.85 l-1.45,-1.85z"/><path d="M481.9,312.1 l1.45,1.85 l-1.45,1.85 l-1.45,-1.85z"/><path d="M484.0,310.0 l1.45,1.85 l-1.45,1.85 l-1.45,-1.85z"/><path d="M486.1,309.5 l1.45,1.85 l-1.45,1.85 l-1.45,-1.85z"/><path d="M488.2,308.4 l1.45,1.85 l-1.45,1.85 l-1.45,-1.85z"/><path d="M490.3,311.6 l1.45,1.85 l-1.45,1.85 l-1.45,-1.85z"/><path d="M492.4,310.8 l1.45,1.85 l-1.45,1.85 l-1.45,-1.85z"/><path d="M494.5,308.4 l1.45,1.85 l-1.45,1.85 l-1.45,-1.85z"/><path d="M496.6,308.5 l1.45,1.85 l-1.45,1.85 l-1.45,-1.85z"/><path d="M498.7,308.4 l1.45,1.85 l-1.45,1.85 l-1.45,-1.85z"/><path d="M500.8,307.8 l1.45,1.85 l-1.45,1.85 l-1.45,-1.85z"/><path d="M503.0,308.8 l1.45,1.85 l-1.45,1.85 l-1.45,-1.85z"/><path d="M505.1,306.1 l1.45,1.85 l-1.45,1.85 l-1.45,-1.85z"/><path d="M507.2,306.5 l1.45,1.85 l-1.45,1.85 l-1.45,-1.85z"/><path d="M509.3,307.0 l1.45,1.85 l-1.45,1.85 l-1.45,-1.85z"/><path d="M511.4,307.9 l1.45,1.85 l-1.45,1.85 l-1.45,-1.85z"/><path d="M513.5,306.8 l1.45,1.85 l-1.45,1.85 l-1.45,-1.85z"/><path d="M515.6,311.0 l1.45,1.85 l-1.45,1.85 l-1.45,-1.85z"/><path d="M517.7,307.9 l1.45,1.85 l-1.45,1.85 l-1.45,-1.85z"/><path d="M519.8,306.0 l1.45,1.85 l-1.45,1.85 l-1.45,-1.85z"/><path d="M521.9,308.5 l1.45,1.85 l-1.45,1.85 l-1.45,-1.85z"/><path d="M524.0,305.4 l1.45,1.85 l-1.45,1.85 l-1.45,-1.85z"/><path d="M526.1,305.4 l1.45,1.85 l-1.45,1.85 l-1.45,-1.85z"/><path d="M528.2,307.8 l1.45,1.85 l-1.45,1.85 l-1.45,-1.85z"/><path d="M530.3,305.8 l1.45,1.85 l-1.45,1.85 l-1.45,-1.85z"/><path d="M532.4,305.8 l1.45,1.85 l-1.45,1.85 l-1.45,-1.85z"/><path d="M534.5,304.3 l1.45,1.85 l-1.45,1.85 l-1.45,-1.85z"/><path d="M536.7,303.9 l1.45,1.85 l-1.45,1.85 l-1.45,-1.85z"/><path d="M538.8,304.9 l1.45,1.85 l-1.45,1.85 l-1.45,-1.85z"/><path d="M540.9,306.2 l1.45,1.85 l-1.45,1.85 l-1.45,-1.85z"/><path d="M543.0,304.9 l1.45,1.85 l-1.45,1.85 l-1.45,-1.85z"/><path d="M545.1,304.6 l1.45,1.85 l-1.45,1.85 l-1.45,-1.85z"/><path d="M547.2,303.2 l1.45,1.85 l-1.45,1.85 l-1.45,-1.85z"/><path d="M549.3,303.8 l1.45,1.85 l-1.45,1.85 l-1.45,-1.85z"/><path d="M551.4,305.4 l1.45,1.85 l-1.45,1.85 l-1.45,-1.85z"/><path d="M553.5,306.4 l1.45,1.85 l-1.45,1.85 l-1.45,-1.85z"/><path d="M555.6,304.6 l1.45,1.85 l-1.45,1.85 l-1.45,-1.85z"/><path d="M557.7,305.1 l1.45,1.85 l-1.45,1.85 l-1.45,-1.85z"/><path d="M559.8,305.7 l1.45,1.85 l-1.45,1.85 l-1.45,-1.85z"/><path d="M561.9,303.8 l1.45,1.85 l-1.45,1.85 l-1.45,-1.85z"/><path d="M564.0,304.4 l1.45,1.85 l-1.45,1.85 l-1.45,-1.85z"/><path d="M566.1,303.3 l1.45,1.85 l-1.45,1.85 l-1.45,-1.85z"/><path d="M568.2,302.4 l1.45,1.85 l-1.45,1.85 l-1.45,-1.85z"/><path d="M570.3,303.9 l1.45,1.85 l-1.45,1.85 l-1.45,-1.85z"/><path d="M572.5,299.1 l1.45,1.85 l-1.45,1.85 l-1.45,-1.85z"/><path d="M574.6,303.5 l1.45,1.85 l-1.45,1.85 l-1.45,-1.85z"/><path d="M576.7,301.0 l1.45,1.85 l-1.45,1.85 l-1.45,-1.85z"/><path d="M578.8,302.5 l1.45,1.85 l-1.45,1.85 l-1.45,-1.85z"/><path d="M580.9,300.7 l1.45,1.85 l-1.45,1.85 l-1.45,-1.85z"/><path d="M583.0,306.5 l1.45,1.85 l-1.45,1.85 l-1.45,-1.85z"/><path d="M585.1,303.7 l1.45,1.85 l-1.45,1.85 l-1.45,-1.85z"/><path d="M587.2,301.8 l1.45,1.85 l-1.45,1.85 l-1.45,-1.85z"/><path d="M589.3,301.1 l1.45,1.85 l-1.45,1.85 l-1.45,-1.85z"/><path d="M591.4,298.0 l1.45,1.85 l-1.45,1.85 l-1.45,-1.85z"/><path d="M593.5,301.4 l1.45,1.85 l-1.45,1.85 l-1.45,-1.85z"/><path d="M595.6,299.6 l1.45,1.85 l-1.45,1.85 l-1.45,-1.85z"/><path d="M597.7,300.4 l1.45,1.85 l-1.45,1.85 l-1.45,-1.85z"/><path d="M599.8,299.9 l1.45,1.85 l-1.45,1.85 l-1.45,-1.85z"/><path d="M601.9,300.6 l1.45,1.85 l-1.45,1.85 l-1.45,-1.85z"/><path d="M604.0,301.6 l1.45,1.85 l-1.45,1.85 l-1.45,-1.85z"/><path d="M606.1,300.3 l1.45,1.85 l-1.45,1.85 l-1.45,-1.85z"/><path d="M608.3,302.9 l1.45,1.85 l-1.45,1.85 l-1.45,-1.85z"/><path d="M610.4,299.0 l1.45,1.85 l-1.45,1.85 l-1.45,-1.85z"/><path d="M612.5,302.6 l1.45,1.85 l-1.45,1.85 l-1.45,-1.85z"/><path d="M614.6,300.3 l1.45,1.85 l-1.45,1.85 l-1.45,-1.85z"/><path d="M616.7,297.0 l1.45,1.85 l-1.45,1.85 l-1.45,-1.85z"/><path d="M618.8,300.9 l1.45,1.85 l-1.45,1.85 l-1.45,-1.85z"/><path d="M620.9,300.4 l1.45,1.85 l-1.45,1.85 l-1.45,-1.85z"/><path d="M623.0,298.3 l1.45,1.85 l-1.45,1.85 l-1.45,-1.85z"/><path d="M625.1,300.1 l1.45,1.85 l-1.45,1.85 l-1.45,-1.85z"/><path d="M627.2,301.4 l1.45,1.85 l-1.45,1.85 l-1.45,-1.85z"/></g>
<g fill="#f01a0a" stroke="#500" stroke-width="0.45"><circle cx="231.0" cy="293.2" r="1.45"/><circle cx="232.2" cy="292.5" r="1.45"/><circle cx="233.3" cy="292.2" r="1.45"/><circle cx="234.5" cy="295.6" r="1.45"/><circle cx="235.6" cy="289.9" r="1.45"/><circle cx="236.8" cy="290.0" r="1.45"/><circle cx="237.9" cy="293.8" r="1.45"/><circle cx="239.0" cy="293.2" r="1.45"/><circle cx="240.2" cy="294.8" r="1.45"/><circle cx="241.3" cy="290.6" r="1.45"/><circle cx="242.5" cy="295.4" r="1.45"/><circle cx="243.6" cy="292.3" r="1.45"/><circle cx="244.7" cy="294.9" r="1.45"/><circle cx="245.9" cy="295.4" r="1.45"/><circle cx="247.0" cy="292.2" r="1.45"/><circle cx="248.2" cy="290.8" r="1.45"/><circle cx="249.3" cy="293.9" r="1.45"/><circle cx="250.5" cy="295.4" r="1.45"/><circle cx="251.6" cy="292.0" r="1.45"/><circle cx="252.7" cy="293.9" r="1.45"/><circle cx="253.9" cy="293.1" r="1.45"/><circle cx="255.0" cy="291.6" r="1.45"/><circle cx="256.2" cy="295.2" r="1.45"/><circle cx="257.3" cy="305.8" r="1.45"/><circle cx="258.4" cy="311.0" r="1.45"/><circle cx="259.6" cy="328.4" r="1.45"/><circle cx="260.7" cy="339.8" r="1.45"/><circle cx="261.9" cy="357.2" r="1.45"/><circle cx="263.0" cy="367.1" r="1.45"/><circle cx="264.2" cy="380.0" r="1.45"/><circle cx="265.3" cy="376.6" r="1.45"/><circle cx="266.4" cy="376.8" r="1.45"/><circle cx="267.6" cy="381.1" r="1.45"/><circle cx="268.7" cy="380.0" r="1.45"/><circle cx="269.9" cy="378.0" r="1.45"/><circle cx="271.0" cy="368.9" r="1.45"/><circle cx="272.2" cy="369.7" r="1.45"/><circle cx="273.3" cy="365.8" r="1.45"/><circle cx="274.4" cy="363.3" r="1.45"/><circle cx="275.6" cy="359.9" r="1.45"/><circle cx="276.7" cy="359.1" r="1.45"/><circle cx="277.9" cy="353.3" r="1.45"/><circle cx="279.0" cy="353.2" r="1.45"/><circle cx="280.1" cy="346.8" r="1.45"/><circle cx="281.3" cy="342.7" r="1.45"/><circle cx="282.4" cy="339.2" r="1.45"/><circle cx="283.6" cy="338.1" r="1.45"/><circle cx="284.7" cy="337.3" r="1.45"/><circle cx="285.9" cy="332.9" r="1.45"/><circle cx="287.0" cy="332.4" r="1.45"/><circle cx="288.1" cy="325.9" r="1.45"/><circle cx="289.3" cy="326.1" r="1.45"/><circle cx="290.4" cy="326.5" r="1.45"/><circle cx="291.6" cy="326.0" r="1.45"/><circle cx="292.7" cy="325.3" r="1.45"/><circle cx="293.9" cy="324.9" r="1.45"/><circle cx="295.0" cy="322.7" r="1.45"/><circle cx="296.1" cy="320.4" r="1.45"/><circle cx="297.3" cy="319.1" r="1.45"/><circle cx="298.4" cy="318.3" r="1.45"/><circle cx="299.6" cy="314.1" r="1.45"/><circle cx="300.7" cy="319.9" r="1.45"/><circle cx="301.8" cy="317.8" r="1.45"/><circle cx="303.0" cy="311.1" r="1.45"/><circle cx="304.1" cy="321.4" r="1.45"/><circle cx="305.3" cy="318.3" r="1.45"/><circle cx="306.4" cy="316.8" r="1.45"/><circle cx="307.6" cy="316.9" r="1.45"/><circle cx="308.7" cy="316.5" r="1.45"/><circle cx="309.8" cy="318.2" r="1.45"/><circle cx="311.0" cy="317.1" r="1.45"/><circle cx="312.1" cy="318.1" r="1.45"/><circle cx="313.3" cy="316.8" r="1.45"/><circle cx="314.4" cy="323.2" r="1.45"/><circle cx="315.5" cy="321.2" r="1.45"/><circle cx="316.7" cy="319.6" r="1.45"/><circle cx="317.8" cy="322.3" r="1.45"/><circle cx="319.0" cy="322.6" r="1.45"/><circle cx="320.1" cy="319.1" r="1.45"/><circle cx="321.3" cy="322.3" r="1.45"/><circle cx="322.4" cy="319.6" r="1.45"/><circle cx="323.5" cy="319.6" r="1.45"/><circle cx="324.7" cy="320.8" r="1.45"/><circle cx="325.8" cy="320.6" r="1.45"/><circle cx="327.0" cy="322.2" r="1.45"/><circle cx="328.1" cy="325.4" r="1.45"/><circle cx="329.3" cy="322.5" r="1.45"/><circle cx="330.4" cy="321.6" r="1.45"/><circle cx="331.5" cy="324.0" r="1.45"/><circle cx="332.7" cy="323.2" r="1.45"/><circle cx="333.8" cy="321.4" r="1.45"/><circle cx="335.0" cy="325.2" r="1.45"/><circle cx="336.1" cy="321.9" r="1.45"/><circle cx="337.2" cy="319.1" r="1.45"/><circle cx="338.4" cy="324.6" r="1.45"/><circle cx="339.5" cy="322.9" r="1.45"/><circle cx="340.7" cy="323.4" r="1.45"/><circle cx="341.8" cy="319.4" r="1.45"/><circle cx="343.0" cy="321.9" r="1.45"/><circle cx="344.1" cy="320.3" r="1.45"/><circle cx="345.2" cy="323.6" r="1.45"/><circle cx="346.4" cy="321.7" r="1.45"/><circle cx="347.5" cy="321.3" r="1.45"/><circle cx="348.7" cy="324.9" r="1.45"/><circle cx="349.8" cy="317.2" r="1.45"/><circle cx="351.0" cy="318.1" r="1.45"/><circle cx="352.1" cy="323.7" r="1.45"/><circle cx="353.2" cy="317.6" r="1.45"/><circle cx="354.4" cy="319.2" r="1.45"/><circle cx="355.5" cy="317.6" r="1.45"/><circle cx="356.7" cy="317.4" r="1.45"/><circle cx="357.8" cy="321.3" r="1.45"/><circle cx="358.9" cy="318.0" r="1.45"/><circle cx="360.1" cy="313.7" r="1.45"/><circle cx="361.2" cy="318.0" r="1.45"/><circle cx="362.4" cy="318.5" r="1.45"/><circle cx="363.5" cy="318.8" r="1.45"/><circle cx="364.7" cy="318.1" r="1.45"/><circle cx="365.8" cy="314.1" r="1.45"/><circle cx="366.9" cy="310.5" r="1.45"/><circle cx="368.1" cy="313.0" r="1.45"/><circle cx="369.2" cy="313.0" r="1.45"/><circle cx="370.4" cy="308.1" r="1.45"/><circle cx="371.5" cy="314.0" r="1.45"/><circle cx="372.6" cy="314.1" r="1.45"/><circle cx="373.8" cy="311.1" r="1.45"/><circle cx="374.9" cy="310.9" r="1.45"/><circle cx="376.1" cy="314.3" r="1.45"/><circle cx="377.2" cy="314.6" r="1.45"/><circle cx="378.4" cy="311.4" r="1.45"/><circle cx="379.5" cy="311.5" r="1.45"/><circle cx="380.6" cy="315.2" r="1.45"/><circle cx="381.8" cy="312.8" r="1.45"/><circle cx="382.9" cy="313.8" r="1.45"/><circle cx="384.1" cy="311.7" r="1.45"/><circle cx="385.2" cy="313.3" r="1.45"/><circle cx="386.4" cy="313.5" r="1.45"/><circle cx="387.5" cy="314.4" r="1.45"/><circle cx="388.6" cy="311.5" r="1.45"/><circle cx="389.8" cy="311.1" r="1.45"/><circle cx="390.9" cy="315.4" r="1.45"/><circle cx="392.1" cy="312.9" r="1.45"/><circle cx="393.2" cy="316.9" r="1.45"/><circle cx="394.3" cy="315.3" r="1.45"/><circle cx="395.5" cy="314.0" r="1.45"/><circle cx="396.6" cy="312.5" r="1.45"/><circle cx="397.8" cy="317.1" r="1.45"/><circle cx="398.9" cy="316.6" r="1.45"/><circle cx="400.1" cy="316.3" r="1.45"/><circle cx="401.2" cy="320.4" r="1.45"/><circle cx="402.3" cy="317.3" r="1.45"/><circle cx="403.5" cy="319.1" r="1.45"/><circle cx="404.6" cy="317.1" r="1.45"/><circle cx="405.8" cy="320.8" r="1.45"/><circle cx="406.9" cy="323.0" r="1.45"/><circle cx="408.1" cy="318.7" r="1.45"/><circle cx="409.2" cy="318.5" r="1.45"/><circle cx="410.3" cy="320.6" r="1.45"/><circle cx="411.5" cy="317.6" r="1.45"/><circle cx="412.6" cy="320.5" r="1.45"/><circle cx="413.8" cy="321.6" r="1.45"/><circle cx="414.9" cy="319.3" r="1.45"/><circle cx="416.0" cy="324.2" r="1.45"/><circle cx="417.2" cy="322.4" r="1.45"/><circle cx="418.3" cy="321.2" r="1.45"/><circle cx="419.5" cy="319.4" r="1.45"/><circle cx="420.6" cy="321.9" r="1.45"/><circle cx="421.8" cy="320.9" r="1.45"/><circle cx="422.9" cy="323.3" r="1.45"/><circle cx="424.0" cy="321.2" r="1.45"/><circle cx="425.2" cy="318.2" r="1.45"/></g>
<g fill="#f01a0a" stroke="#500" stroke-width="0.45"><circle cx="437.7" cy="322.7" r="1.45"/><circle cx="439.8" cy="317.5" r="1.45"/><circle cx="441.9" cy="319.0" r="1.45"/><circle cx="444.0" cy="316.6" r="1.45"/><circle cx="446.1" cy="315.3" r="1.45"/><circle cx="448.2" cy="313.4" r="1.45"/><circle cx="450.3" cy="315.1" r="1.45"/><circle cx="452.4" cy="315.4" r="1.45"/><circle cx="454.5" cy="311.7" r="1.45"/><circle cx="456.6" cy="311.0" r="1.45"/><circle cx="458.7" cy="310.8" r="1.45"/><circle cx="460.8" cy="308.2" r="1.45"/><circle cx="462.9" cy="310.6" r="1.45"/><circle cx="465.0" cy="310.3" r="1.45"/><circle cx="467.2" cy="309.3" r="1.45"/><circle cx="469.3" cy="309.7" r="1.45"/><circle cx="471.4" cy="308.0" r="1.45"/><circle cx="473.5" cy="311.1" r="1.45"/><circle cx="475.6" cy="309.9" r="1.45"/><circle cx="477.7" cy="313.2" r="1.45"/><circle cx="479.8" cy="308.2" r="1.45"/><circle cx="481.9" cy="309.4" r="1.45"/><circle cx="484.0" cy="307.8" r="1.45"/><circle cx="486.1" cy="306.3" r="1.45"/><circle cx="488.2" cy="308.6" r="1.45"/><circle cx="490.3" cy="308.7" r="1.45"/><circle cx="492.4" cy="308.9" r="1.45"/><circle cx="494.5" cy="309.1" r="1.45"/><circle cx="496.6" cy="308.7" r="1.45"/><circle cx="498.7" cy="307.1" r="1.45"/><circle cx="500.8" cy="307.7" r="1.45"/><circle cx="503.0" cy="307.5" r="1.45"/><circle cx="505.1" cy="307.6" r="1.45"/><circle cx="507.2" cy="306.2" r="1.45"/><circle cx="509.3" cy="306.6" r="1.45"/><circle cx="511.4" cy="307.1" r="1.45"/><circle cx="513.5" cy="306.0" r="1.45"/><circle cx="515.6" cy="306.8" r="1.45"/><circle cx="517.7" cy="307.8" r="1.45"/><circle cx="519.8" cy="304.7" r="1.45"/><circle cx="521.9" cy="305.7" r="1.45"/><circle cx="524.0" cy="307.1" r="1.45"/><circle cx="526.1" cy="304.7" r="1.45"/><circle cx="528.2" cy="305.3" r="1.45"/><circle cx="530.3" cy="307.4" r="1.45"/><circle cx="532.4" cy="303.6" r="1.45"/><circle cx="534.5" cy="304.9" r="1.45"/><circle cx="536.7" cy="304.1" r="1.45"/><circle cx="538.8" cy="304.8" r="1.45"/><circle cx="540.9" cy="305.0" r="1.45"/><circle cx="543.0" cy="306.5" r="1.45"/><circle cx="545.1" cy="303.5" r="1.45"/><circle cx="547.2" cy="304.4" r="1.45"/><circle cx="549.3" cy="304.6" r="1.45"/><circle cx="551.4" cy="303.8" r="1.45"/><circle cx="553.5" cy="304.0" r="1.45"/><circle cx="555.6" cy="303.2" r="1.45"/><circle cx="557.7" cy="304.2" r="1.45"/><circle cx="559.8" cy="303.7" r="1.45"/><circle cx="561.9" cy="306.0" r="1.45"/><circle cx="564.0" cy="303.9" r="1.45"/><circle cx="566.1" cy="302.6" r="1.45"/><circle cx="568.2" cy="301.7" r="1.45"/><circle cx="570.3" cy="303.5" r="1.45"/><circle cx="572.5" cy="303.1" r="1.45"/><circle cx="574.6" cy="301.1" r="1.45"/><circle cx="576.7" cy="303.1" r="1.45"/><circle cx="578.8" cy="301.8" r="1.45"/><circle cx="580.9" cy="300.7" r="1.45"/><circle cx="583.0" cy="302.4" r="1.45"/><circle cx="585.1" cy="301.0" r="1.45"/><circle cx="587.2" cy="303.1" r="1.45"/><circle cx="589.3" cy="302.0" r="1.45"/><circle cx="591.4" cy="302.2" r="1.45"/><circle cx="593.5" cy="301.9" r="1.45"/><circle cx="595.6" cy="300.7" r="1.45"/><circle cx="597.7" cy="299.2" r="1.45"/><circle cx="599.8" cy="302.5" r="1.45"/><circle cx="601.9" cy="302.4" r="1.45"/><circle cx="604.0" cy="301.1" r="1.45"/><circle cx="606.1" cy="302.7" r="1.45"/><circle cx="608.3" cy="300.9" r="1.45"/><circle cx="610.4" cy="300.7" r="1.45"/><circle cx="612.5" cy="301.6" r="1.45"/><circle cx="614.6" cy="300.6" r="1.45"/><circle cx="616.7" cy="302.9" r="1.45"/><circle cx="618.8" cy="300.2" r="1.45"/><circle cx="620.9" cy="302.8" r="1.45"/><circle cx="623.0" cy="301.7" r="1.45"/><circle cx="625.1" cy="301.5" r="1.45"/><circle cx="627.2" cy="301.2" r="1.45"/></g>
<g fill="#1212dc" stroke="#005" stroke-width="0.45"><circle cx="231.0" cy="288.6" r="1.45"/><circle cx="232.4" cy="291.3" r="1.45"/><circle cx="233.7" cy="292.9" r="1.45"/><circle cx="235.0" cy="289.7" r="1.45"/><circle cx="236.3" cy="286.2" r="1.45"/><circle cx="237.6" cy="291.5" r="1.45"/><circle cx="238.9" cy="290.3" r="1.45"/><circle cx="240.2" cy="287.3" r="1.45"/><circle cx="241.5" cy="290.7" r="1.45"/><circle cx="242.9" cy="295.9" r="1.45"/><circle cx="244.2" cy="283.1" r="1.45"/><circle cx="245.5" cy="284.0" r="1.45"/><circle cx="246.8" cy="298.3" r="1.45"/><circle cx="248.1" cy="291.7" r="1.45"/><circle cx="249.4" cy="290.1" r="1.45"/><circle cx="250.7" cy="288.2" r="1.45"/><circle cx="252.1" cy="288.7" r="1.45"/><circle cx="253.4" cy="290.6" r="1.45"/><circle cx="254.7" cy="290.8" r="1.45"/><circle cx="256.0" cy="283.6" r="1.45"/><circle cx="257.3" cy="276.1" r="1.45"/><circle cx="258.6" cy="279.0" r="1.45"/><circle cx="259.9" cy="275.6" r="1.45"/><circle cx="261.2" cy="269.6" r="1.45"/><circle cx="262.6" cy="273.9" r="1.45"/><circle cx="263.9" cy="266.6" r="1.45"/><circle cx="265.2" cy="266.2" r="1.45"/><circle cx="266.5" cy="262.4" r="1.45"/><circle cx="267.8" cy="265.7" r="1.45"/><circle cx="269.1" cy="265.7" r="1.45"/><circle cx="270.4" cy="263.6" r="1.45"/><circle cx="271.8" cy="262.0" r="1.45"/><circle cx="273.1" cy="263.7" r="1.45"/><circle cx="274.4" cy="261.0" r="1.45"/><circle cx="275.7" cy="258.2" r="1.45"/><circle cx="277.0" cy="256.4" r="1.45"/><circle cx="278.3" cy="254.3" r="1.45"/><circle cx="279.6" cy="262.5" r="1.45"/><circle cx="280.9" cy="261.0" r="1.45"/><circle cx="282.3" cy="267.7" r="1.45"/><circle cx="283.6" cy="252.5" r="1.45"/><circle cx="284.9" cy="261.1" r="1.45"/><circle cx="286.2" cy="258.4" r="1.45"/><circle cx="287.5" cy="256.2" r="1.45"/><circle cx="288.8" cy="262.3" r="1.45"/><circle cx="290.1" cy="255.8" r="1.45"/><circle cx="291.5" cy="257.2" r="1.45"/><circle cx="292.8" cy="263.0" r="1.45"/><circle cx="294.1" cy="255.5" r="1.45"/><circle cx="295.4" cy="252.1" r="1.45"/><circle cx="296.7" cy="262.3" r="1.45"/><circle cx="298.0" cy="252.9" r="1.45"/><circle cx="299.3" cy="254.6" r="1.45"/><circle cx="300.6" cy="253.4" r="1.45"/><circle cx="302.0" cy="253.3" r="1.45"/><circle cx="303.3" cy="250.1" r="1.45"/><circle cx="304.6" cy="255.0" r="1.45"/><circle cx="305.9" cy="251.0" r="1.45"/><circle cx="307.2" cy="255.1" r="1.45"/><circle cx="308.5" cy="251.0" r="1.45"/><circle cx="309.8" cy="256.0" r="1.45"/><circle cx="311.2" cy="253.3" r="1.45"/><circle cx="312.5" cy="246.8" r="1.45"/><circle cx="313.8" cy="250.9" r="1.45"/><circle cx="315.1" cy="252.7" r="1.45"/><circle cx="316.4" cy="255.8" r="1.45"/><circle cx="317.7" cy="254.4" r="1.45"/><circle cx="319.0" cy="250.8" r="1.45"/><circle cx="320.3" cy="248.0" r="1.45"/><circle cx="321.7" cy="249.6" r="1.45"/><circle cx="323.0" cy="249.0" r="1.45"/><circle cx="324.3" cy="250.8" r="1.45"/><circle cx="325.6" cy="245.8" r="1.45"/><circle cx="326.9" cy="251.6" r="1.45"/><circle cx="328.2" cy="252.0" r="1.45"/><circle cx="329.5" cy="247.0" r="1.45"/><circle cx="330.9" cy="249.6" r="1.45"/><circle cx="332.2" cy="250.7" r="1.45"/><circle cx="333.5" cy="251.5" r="1.45"/><circle cx="334.8" cy="250.3" r="1.45"/><circle cx="336.1" cy="247.2" r="1.45"/><circle cx="337.4" cy="248.0" r="1.45"/><circle cx="338.7" cy="253.2" r="1.45"/><circle cx="340.0" cy="247.6" r="1.45"/><circle cx="341.4" cy="248.3" r="1.45"/><circle cx="342.7" cy="252.2" r="1.45"/><circle cx="344.0" cy="246.1" r="1.45"/><circle cx="345.3" cy="249.6" r="1.45"/><circle cx="346.6" cy="249.7" r="1.45"/><circle cx="347.9" cy="245.7" r="1.45"/><circle cx="349.2" cy="243.8" r="1.45"/><circle cx="350.6" cy="250.6" r="1.45"/><circle cx="351.9" cy="246.7" r="1.45"/><circle cx="353.2" cy="251.1" r="1.45"/><circle cx="354.5" cy="240.1" r="1.45"/><circle cx="355.8" cy="249.6" r="1.45"/><circle cx="357.1" cy="243.8" r="1.45"/><circle cx="358.4" cy="250.0" r="1.45"/><circle cx="359.7" cy="244.9" r="1.45"/><circle cx="361.1" cy="240.1" r="1.45"/><circle cx="362.4" cy="256.2" r="1.45"/><circle cx="363.7" cy="248.9" r="1.45"/><circle cx="365.0" cy="245.7" r="1.45"/><circle cx="366.3" cy="247.6" r="1.45"/><circle cx="367.6" cy="249.5" r="1.45"/><circle cx="368.9" cy="239.9" r="1.45"/><circle cx="370.2" cy="246.9" r="1.45"/><circle cx="371.6" cy="252.7" r="1.45"/><circle cx="372.9" cy="244.1" r="1.45"/><circle cx="374.2" cy="252.8" r="1.45"/><circle cx="375.5" cy="243.0" r="1.45"/><circle cx="376.8" cy="248.8" r="1.45"/><circle cx="378.1" cy="246.3" r="1.45"/><circle cx="379.4" cy="242.4" r="1.45"/><circle cx="380.8" cy="246.2" r="1.45"/><circle cx="382.1" cy="251.3" r="1.45"/><circle cx="383.4" cy="252.3" r="1.45"/><circle cx="384.7" cy="242.4" r="1.45"/><circle cx="386.0" cy="243.9" r="1.45"/><circle cx="387.3" cy="249.1" r="1.45"/><circle cx="388.6" cy="243.3" r="1.45"/><circle cx="389.9" cy="244.5" r="1.45"/><circle cx="391.3" cy="243.9" r="1.45"/><circle cx="392.6" cy="253.8" r="1.45"/><circle cx="393.9" cy="247.0" r="1.45"/><circle cx="395.2" cy="242.9" r="1.45"/><circle cx="396.5" cy="243.4" r="1.45"/><circle cx="397.8" cy="242.8" r="1.45"/><circle cx="399.1" cy="254.1" r="1.45"/><circle cx="400.5" cy="245.1" r="1.45"/><circle cx="401.8" cy="244.0" r="1.45"/><circle cx="403.1" cy="236.9" r="1.45"/><circle cx="404.4" cy="248.8" r="1.45"/><circle cx="405.7" cy="246.6" r="1.45"/><circle cx="407.0" cy="245.3" r="1.45"/><circle cx="408.3" cy="242.3" r="1.45"/><circle cx="409.6" cy="246.8" r="1.45"/><circle cx="411.0" cy="241.3" r="1.45"/><circle cx="412.3" cy="247.8" r="1.45"/><circle cx="413.6" cy="244.2" r="1.45"/><circle cx="414.9" cy="246.8" r="1.45"/><circle cx="416.2" cy="244.4" r="1.45"/><circle cx="417.5" cy="247.3" r="1.45"/><circle cx="418.8" cy="250.3" r="1.45"/><circle cx="420.2" cy="241.1" r="1.45"/><circle cx="421.5" cy="243.7" r="1.45"/><circle cx="422.8" cy="246.6" r="1.45"/><circle cx="424.1" cy="243.9" r="1.45"/></g>
<g fill="#1212dc" stroke="#005" stroke-width="0.45"><circle cx="438.0" cy="241.7" r="1.45"/><circle cx="440.4" cy="250.2" r="1.45"/><circle cx="442.9" cy="249.2" r="1.45"/><circle cx="445.3" cy="247.7" r="1.45"/><circle cx="447.7" cy="248.3" r="1.45"/><circle cx="450.1" cy="251.6" r="1.45"/><circle cx="452.6" cy="258.0" r="1.45"/><circle cx="455.0" cy="246.9" r="1.45"/><circle cx="457.4" cy="250.4" r="1.45"/><circle cx="459.8" cy="251.9" r="1.45"/><circle cx="462.2" cy="253.2" r="1.45"/><circle cx="464.7" cy="251.8" r="1.45"/><circle cx="467.1" cy="254.5" r="1.45"/><circle cx="469.5" cy="256.8" r="1.45"/><circle cx="471.9" cy="256.2" r="1.45"/><circle cx="474.3" cy="256.0" r="1.45"/><circle cx="476.8" cy="256.3" r="1.45"/><circle cx="479.2" cy="258.4" r="1.45"/><circle cx="481.6" cy="252.4" r="1.45"/><circle cx="484.0" cy="259.2" r="1.45"/><circle cx="486.5" cy="252.5" r="1.45"/><circle cx="488.9" cy="258.3" r="1.45"/><circle cx="491.3" cy="253.7" r="1.45"/><circle cx="493.7" cy="250.3" r="1.45"/><circle cx="496.1" cy="254.4" r="1.45"/><circle cx="498.6" cy="257.6" r="1.45"/><circle cx="501.0" cy="255.1" r="1.45"/><circle cx="503.4" cy="254.8" r="1.45"/><circle cx="505.8" cy="261.2" r="1.45"/><circle cx="508.3" cy="257.5" r="1.45"/><circle cx="510.7" cy="254.9" r="1.45"/><circle cx="513.1" cy="257.1" r="1.45"/><circle cx="515.5" cy="255.2" r="1.45"/><circle cx="517.9" cy="253.1" r="1.45"/><circle cx="520.4" cy="253.0" r="1.45"/><circle cx="522.8" cy="252.5" r="1.45"/><circle cx="525.2" cy="253.7" r="1.45"/><circle cx="527.6" cy="256.7" r="1.45"/><circle cx="530.1" cy="255.8" r="1.45"/><circle cx="532.5" cy="256.7" r="1.45"/><circle cx="534.9" cy="256.9" r="1.45"/><circle cx="537.3" cy="256.4" r="1.45"/><circle cx="539.7" cy="261.7" r="1.45"/><circle cx="542.2" cy="257.0" r="1.45"/><circle cx="544.6" cy="256.0" r="1.45"/><circle cx="547.0" cy="259.3" r="1.45"/><circle cx="549.4" cy="256.0" r="1.45"/><circle cx="551.8" cy="254.2" r="1.45"/><circle cx="554.3" cy="256.6" r="1.45"/><circle cx="556.7" cy="249.0" r="1.45"/><circle cx="559.1" cy="264.9" r="1.45"/><circle cx="561.5" cy="256.8" r="1.45"/><circle cx="564.0" cy="262.3" r="1.45"/><circle cx="566.4" cy="252.8" r="1.45"/><circle cx="568.8" cy="247.1" r="1.45"/><circle cx="571.2" cy="264.7" r="1.45"/><circle cx="573.6" cy="255.8" r="1.45"/><circle cx="576.1" cy="254.5" r="1.45"/><circle cx="578.5" cy="257.3" r="1.45"/><circle cx="580.9" cy="254.4" r="1.45"/><circle cx="583.3" cy="263.9" r="1.45"/><circle cx="585.8" cy="253.4" r="1.45"/><circle cx="588.2" cy="255.1" r="1.45"/><circle cx="590.6" cy="256.3" r="1.45"/><circle cx="593.0" cy="258.4" r="1.45"/><circle cx="595.4" cy="254.2" r="1.45"/><circle cx="597.9" cy="258.0" r="1.45"/><circle cx="600.3" cy="255.7" r="1.45"/><circle cx="602.7" cy="258.2" r="1.45"/><circle cx="605.1" cy="264.1" r="1.45"/><circle cx="607.6" cy="256.6" r="1.45"/><circle cx="610.0" cy="255.8" r="1.45"/><circle cx="612.4" cy="253.9" r="1.45"/><circle cx="614.8" cy="259.5" r="1.45"/><circle cx="617.2" cy="256.6" r="1.45"/><circle cx="619.7" cy="254.4" r="1.45"/><circle cx="622.1" cy="256.1" r="1.45"/><circle cx="624.5" cy="252.3" r="1.45"/><circle cx="626.9" cy="249.8" r="1.45"/><circle cx="629.4" cy="259.7" r="1.45"/><circle cx="631.8" cy="263.2" r="1.45"/><circle cx="634.2" cy="253.7" r="1.45"/><circle cx="636.6" cy="251.5" r="1.45"/><circle cx="639.0" cy="253.5" r="1.45"/><circle cx="641.5" cy="253.9" r="1.45"/><circle cx="643.9" cy="258.8" r="1.45"/><circle cx="646.3" cy="259.2" r="1.45"/><circle cx="648.7" cy="253.7" r="1.45"/><circle cx="651.1" cy="259.9" r="1.45"/><circle cx="653.6" cy="262.9" r="1.45"/><circle cx="656.0" cy="260.2" r="1.45"/><circle cx="658.4" cy="248.3" r="1.45"/><circle cx="660.8" cy="250.3" r="1.45"/><circle cx="663.3" cy="259.2" r="1.45"/><circle cx="665.7" cy="259.3" r="1.45"/><circle cx="668.1" cy="256.1" r="1.45"/><circle cx="670.5" cy="259.4" r="1.45"/><circle cx="672.9" cy="252.5" r="1.45"/></g>
<polyline points="231.0,293.8 232.2,293.8 233.3,293.8 234.5,293.8 235.6,293.8 236.8,293.8 237.9,293.8 239.0,293.8 240.2,293.8 241.3,293.8 242.5,293.8 243.6,293.8 244.7,293.8 245.9,293.8 247.0,293.8 248.2,293.8 249.3,293.8 250.5,293.8 251.6,293.8 252.7,293.8 253.9,293.8 255.0,295.0 256.2,297.8 257.3,304.6 258.4,316.2 259.6,328.5 260.7,341.6 261.9,355.7 263.0,367.0 264.2,376.0 265.3,380.7 266.4,379.9 267.6,378.4 268.7,376.6 269.9,374.3 271.0,371.6 272.2,368.7 273.3,365.6 274.4,362.6 275.6,359.7 276.7,356.6 277.9,353.3 279.0,350.0 280.1,346.6 281.3,343.4 282.4,340.3 283.6,337.6 284.7,335.3 285.9,333.2 287.0,331.3 288.1,329.5 289.3,327.8 290.4,326.3 291.6,324.9 292.7,323.7 293.9,322.8 295.0,321.9 296.1,321.1 297.3,320.3 298.4,319.6 299.6,318.9 300.7,318.3 301.8,317.8 303.0,317.4 304.1,317.2 305.3,317.1 306.4,317.1 307.6,317.2 308.7,317.4 309.8,317.6 311.0,317.9 312.1,318.2 313.3,318.5 314.4,318.9 315.5,319.2 316.7,319.6 317.8,319.9 319.0,320.3 320.1,320.6 321.3,320.8 322.4,321.1 323.5,321.3 324.7,321.5 325.8,321.8 327.0,322.0 328.1,322.2 329.3,322.4 330.4,322.7 331.5,322.8 332.7,323.0 333.8,323.1 335.0,323.3 336.1,323.3 337.2,323.3 338.4,323.3 339.5,323.2 340.7,323.1 341.8,322.9 343.0,322.6 344.1,322.3 345.2,322.0 346.4,321.7 347.5,321.3 348.7,320.9 349.8,320.5 351.0,320.1 352.1,319.7 353.2,319.3 354.4,318.9 355.5,318.6 356.7,318.2 357.8,317.9 358.9,317.5 360.1,317.1 361.2,316.7 362.4,316.2 363.5,315.8 364.7,315.3 365.8,314.8 366.9,314.4 368.1,314.0 369.2,313.6 370.4,313.2 371.5,312.8 372.6,312.6 373.8,312.3 374.9,312.1 376.1,312.0 377.2,312.0 378.4,312.0 379.5,312.1 380.6,312.2 381.8,312.4 382.9,312.6 384.1,312.8 385.2,313.0 386.4,313.3 387.5,313.6 388.6,313.9 389.8,314.2 390.9,314.5 392.1,314.8 393.2,315.1 394.3,315.4 395.5,315.7 396.6,316.0 397.8,316.2 398.9,316.5 400.1,316.7 401.2,317.0 402.3,317.3 403.5,317.6 404.6,317.9 405.8,318.2 406.9,318.5 408.1,318.8 409.2,319.1 410.3,319.4 411.5,319.6 412.6,319.9 413.8,320.2 414.9,320.4 416.0,320.7 417.2,320.9 418.3,321.1 419.5,321.3 420.6,321.5 421.8,321.6 422.9,321.8 424.0,321.9 425.2,322.0" fill="none" stroke="#ff1fe0" stroke-width="1.3"/>
<polyline points="251.6,294.4 252.7,293.9 253.9,293.3 255.0,289.5 256.2,284.2 257.3,279.9 258.4,275.9 259.6,272.8 260.7,270.6 261.9,268.7 263.0,267.2 264.2,266.0 265.3,265.1 266.4,264.3 267.6,263.6 268.7,263.0 269.9,262.5 271.0,262.1 272.2,261.7 273.3,261.3 274.4,261.0 275.6,260.7 276.7,260.5 277.9,260.2 279.0,260.0 280.1,259.7 281.3,259.5 282.4,259.2 283.6,258.9 284.7,258.7 285.9,258.4 287.0,258.1 288.1,257.9 289.3,257.6 290.4,257.3 291.6,257.1 292.7,256.8 293.9,256.5 295.0,256.3 296.1,256.0 297.3,255.8 298.4,255.5 299.6,255.3 300.7,255.0 301.8,254.8 303.0,254.6 304.1,254.3 305.3,254.1 306.4,253.9 307.6,253.7 308.7,253.4 309.8,253.2 311.0,253.0 312.1,252.8 313.3,252.5 314.4,252.3 315.5,252.1 316.7,251.9 317.8,251.7 319.0,251.5 320.1,251.3 321.3,251.1 322.4,250.9 323.5,250.7 324.7,250.6 325.8,250.4 327.0,250.3 328.1,250.1 329.3,250.0 330.4,249.9 331.5,249.8 332.7,249.7 333.8,249.6 335.0,249.4 336.1,249.3 337.2,249.2 338.4,249.1 339.5,249.0 340.7,249.0 341.8,248.9 343.0,248.8 344.1,248.7 345.2,248.6 346.4,248.5 347.5,248.5 348.7,248.4 349.8,248.3 351.0,248.2 352.1,248.2 353.2,248.1 354.4,248.0 355.5,247.9 356.7,247.9 357.8,247.8 358.9,247.7 360.1,247.7 361.2,247.6 362.4,247.5 363.5,247.5 364.7,247.4 365.8,247.3 366.9,247.3 368.1,247.2 369.2,247.2 370.4,247.1 371.5,247.1 372.6,247.0 373.8,246.9 374.9,246.9 376.1,246.8 377.2,246.8 378.4,246.7 379.5,246.7 380.6,246.6 381.8,246.6 382.9,246.5 384.1,246.5 385.2,246.4 386.4,246.4 387.5,246.3 388.6,246.3 389.8,246.2 390.9,246.2 392.1,246.1 393.2,246.1 394.3,246.0 395.5,246.0 396.6,245.9 397.8,245.9 398.9,245.8 400.1,245.8 401.2,245.7 402.3,245.7 403.5,245.6 404.6,245.6 405.8,245.5 406.9,245.5 408.1,245.5 409.2,245.4 410.3,245.4 411.5,245.3 412.6,245.3 413.8,245.2 414.9,245.2 416.0,245.1 417.2,245.1 418.3,245.0 419.5,245.0 420.6,245.0 421.8,244.9 422.9,244.9 424.0,244.8 425.2,244.8" fill="none" stroke="#22e6f2" stroke-width="1.2"/>
<g stroke="#262626" stroke-width="0.6" fill="none">
<polyline points="426.0,226.3 231.4,226.3 231.4,431.1 426.0,431.1"/>
<polyline points="437.6,226.3 676.9,226.3 676.9,431.1 437.6,431.1"/>
<line x1="231.4" y1="407.9" x2="233.6" y2="407.9"/><line x1="676.9" y1="407.9" x2="674.7" y2="407.9"/>
<line x1="231.4" y1="385.2" x2="233.6" y2="385.2"/><line x1="676.9" y1="385.2" x2="674.7" y2="385.2"/>
<line x1="231.4" y1="362.5" x2="233.6" y2="362.5"/><line x1="676.9" y1="362.5" x2="674.7" y2="362.5"/>
<line x1="231.4" y1="339.8" x2="233.6" y2="339.8"/><line x1="676.9" y1="339.8" x2="674.7" y2="339.8"/>
<line x1="231.4" y1="317.1" x2="233.6" y2="317.1"/><line x1="676.9" y1="317.1" x2="674.7" y2="317.1"/>
<line x1="231.4" y1="294.4" x2="233.6" y2="294.4"/><line x1="676.9" y1="294.4" x2="674.7" y2="294.4"/>
<line x1="231.4" y1="271.7" x2="233.6" y2="271.7"/><line x1="676.9" y1="271.7" x2="674.7" y2="271.7"/>
<line x1="231.4" y1="249.0" x2="233.6" y2="249.0"/><line x1="676.9" y1="249.0" x2="674.7" y2="249.0"/>
<line x1="265.3" y1="431.1" x2="265.3" y2="428.9"/><line x1="265.3" y1="226.3" x2="265.3" y2="228.5"/>
<line x1="322.4" y1="431.1" x2="322.4" y2="428.9"/><line x1="322.4" y1="226.3" x2="322.4" y2="228.5"/>
<line x1="379.5" y1="431.1" x2="379.5" y2="428.9"/><line x1="379.5" y1="226.3" x2="379.5" y2="228.5"/>
<line x1="466.1" y1="431.1" x2="466.1" y2="428.9"/><line x1="466.1" y1="226.3" x2="466.1" y2="228.5"/>
<line x1="501.2" y1="431.1" x2="501.2" y2="428.9"/><line x1="501.2" y1="226.3" x2="501.2" y2="228.5"/>
<line x1="536.3" y1="431.1" x2="536.3" y2="428.9"/><line x1="536.3" y1="226.3" x2="536.3" y2="228.5"/>
<line x1="571.4" y1="431.1" x2="571.4" y2="428.9"/><line x1="571.4" y1="226.3" x2="571.4" y2="228.5"/>
<line x1="606.5" y1="431.1" x2="606.5" y2="428.9"/><line x1="606.5" y1="226.3" x2="606.5" y2="228.5"/>
<line x1="641.6" y1="431.1" x2="641.6" y2="428.9"/><line x1="641.6" y1="226.3" x2="641.6" y2="228.5"/>
</g>
<g stroke="#111" stroke-width="1.4">
<line x1="424.3" y1="229.9" x2="427.7" y2="222.7"/>
<line x1="424.3" y1="434.7" x2="427.7" y2="427.5"/>
<line x1="435.9" y1="229.9" x2="439.3" y2="222.7"/>
<line x1="435.9" y1="434.7" x2="439.3" y2="427.5"/>
</g>
<g font-size="10.4" fill="#262626" text-anchor="end">
<text x="227.6" y="434.2">-12</text>
<text x="227.6" y="411.5">-10</text>
<text x="227.6" y="388.8">-8</text>
<text x="227.6" y="366.1">-6</text>
<text x="227.6" y="343.4">-4</text>
<text x="227.6" y="320.7">-2</text>
<text x="227.6" y="298.0">0</text>
<text x="227.6" y="275.3">2</text>
<text x="227.6" y="252.6">4</text>
<text x="227.6" y="229.9">6</text>
</g>
<g font-size="10.2" fill="#262626" text-anchor="middle">
<text x="265.3" y="445.8">0</text>
<text x="322.4" y="445.8">5</text>
<text x="379.5" y="445.8">10</text>
<text x="466.1" y="445.8">100</text>
<text x="501.2" y="445.8">200</text>
<text x="536.3" y="445.8">300</text>
<text x="571.4" y="445.8">400</text>
<text x="606.5" y="445.8">500</text>
<text x="641.6" y="445.8">600</text>
<text x="676.7" y="445.8">700</text>
</g>
<text x="403.0" y="461.6" font-size="11.5" fill="#262626">Probe Delay (ps)</text>
<text x="232.3" y="223.8" font-size="10.4" fill="#262626">×</text><text x="239.9" y="223.8" font-size="10.4" fill="#262626">10<tspan font-size="8" dy="-4.5">-3</tspan></text>
<text transform="translate(203.0,328.0) rotate(-90)" text-anchor="middle" font-size="13.4" fill="#262626">-Δ<tspan font-style="italic">σ</tspan><tspan font-size="7.8" dy="4.6">1;t</tspan><tspan dy="-4.6">/</tspan><tspan font-style="italic">σ</tspan><tspan font-size="7.8" dy="4.6">1;0</tspan></text>
<text x="292.6" y="293.0" font-size="17.4" fill="#111">(d)</text>
<text x="636.0" y="333.0" font-size="8.6" fill="#111">300 K</text>
<g font-size="9.9" fill="#111">
<text x="480.0" y="344.6"><tspan font-style="italic">τ</tspan><tspan font-size="8.0" dy="3.3">fast</tspan><tspan dy="-3.3"> = 1.7 ± 0.2 ps</tspan></text>
<text x="480.0" y="359.8"><tspan font-style="italic">τ</tspan><tspan font-size="8.0" dy="3.3">slow</tspan><tspan dy="-3.3"> = 300 ± 50 ps</tspan></text>
<text x="480.0" y="376.4">s = 0.55 ± 0.13 ps</text>
<text x="480.0" y="388.4"><tspan font-style="italic">ω</tspan> = 0.9 ± 0.1 THz</text>
<text x="480.0" y="399.4"><tspan font-style="italic">τ</tspan><tspan font-size="8.0" dy="3.3">e</tspan><tspan dy="-3.3"> = 0.7 ± 0.1 ps</tspan></text>
<text x="480.0" y="415.2"><tspan font-style="italic">τ</tspan><tspan font-size="8.0" dy="3.3">m</tspan><tspan dy="-3.3"> = 6 ± 1 ps</tspan></text>
</g>
<polyline points="481.6,335.8 475.8,335.8 475.8,391.0 481.6,391.0" fill="none" stroke="#ff3b3b" stroke-width="1.1"/>
<polyline points="481.6,392.0 475.8,392.0 475.8,421.6 481.6,421.6" fill="none" stroke="#3b3bff" stroke-width="1.1"/>
<text x="458.2" y="366.4" font-size="4.6" fill="#ff2020">F3GT</text>
<text x="458.2" y="407.4" font-size="4.6" fill="#2020ff">F5GT</text>
<circle cx="578.2" cy="359.0" r="1.2" fill="#f01a0a" stroke="#500" stroke-width="0.4"/>
<text x="590.4" y="362.1" font-size="8.9" fill="#111">Fe<tspan font-size="6.4" dy="2.4">3</tspan><tspan dy="-2.4">GeTe</tspan><tspan font-size="6.2" dy="2.4">2</tspan><tspan dy="-2.4"> (15 ML)</tspan></text>
<circle cx="578.2" cy="374.6" r="1.2" fill="#1212dc" stroke="#005" stroke-width="0.4"/>
<text x="590.4" y="377.7" font-size="8.9" fill="#111">Fe<tspan font-size="6.4" dy="2.4">5</tspan><tspan dy="-2.4">GeTe</tspan><tspan font-size="6.2" dy="2.4">2</tspan><tspan dy="-2.4"> (15 ML)</tspan></text>
<path d="M578.2,389.1 l1.1,1.5 l-1.1,1.5 l-1.1,-1.5z" fill="#e6c21e" stroke="#4a3a00" stroke-width="0.4"/>
<text x="590.4" y="393.7" font-size="8.9" fill="#111">Fe<tspan font-size="6.4" dy="2.4">3</tspan><tspan dy="-2.4">GeTe</tspan><tspan font-size="6.2" dy="2.4">2</tspan><tspan dy="-2.4"> (3 ML)</tspan></text>
<path d="M578.2,404.7 l1.1,1.5 l-1.1,1.5 l-1.1,-1.5z" fill="#5fb6d8" stroke="#123c50" stroke-width="0.4"/>
<text x="590.4" y="409.3" font-size="8.9" fill="#111">Fe<tspan font-size="6.4" dy="2.4">5</tspan><tspan dy="-2.4">GeTe</tspan><tspan font-size="6.2" dy="2.4">2</tspan><tspan dy="-2.4"> (3 ML)</tspan></text></g>
</svg>
</body></html>
